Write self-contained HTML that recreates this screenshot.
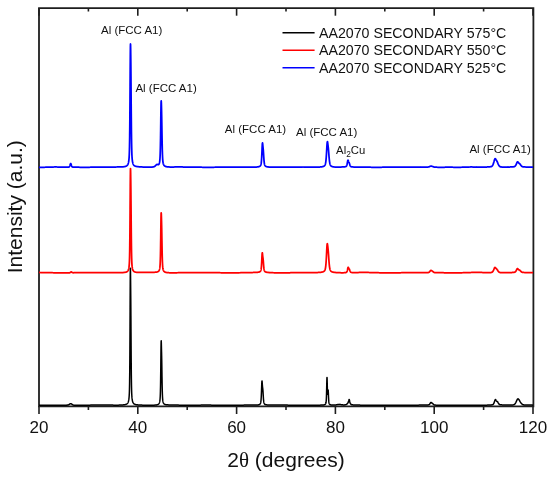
<!DOCTYPE html>
<html><head><meta charset="utf-8"><title>XRD</title>
<style>
html,body{margin:0;padding:0;background:#fff;}
svg{display:block;}
text{font-family:"Liberation Sans",Arial,sans-serif;fill:#111;}
</style></head><body>
<svg width="550" height="479" viewBox="0 0 550 479">
<rect width="550" height="479" fill="#fff"/>
<g stroke="#1e1e1e" stroke-width="1.6"><line x1="39.00" y1="406" x2="39.00" y2="414" /><line x1="39.00" y1="8" x2="39.00" y2="15.7" /><line x1="88.40" y1="406" x2="88.40" y2="410" /><line x1="88.40" y1="8" x2="88.40" y2="11.5" /><line x1="137.80" y1="406" x2="137.80" y2="414" /><line x1="137.80" y1="8" x2="137.80" y2="15.7" /><line x1="187.20" y1="406" x2="187.20" y2="410" /><line x1="187.20" y1="8" x2="187.20" y2="11.5" /><line x1="236.60" y1="406" x2="236.60" y2="414" /><line x1="236.60" y1="8" x2="236.60" y2="15.7" /><line x1="286.00" y1="406" x2="286.00" y2="410" /><line x1="286.00" y1="8" x2="286.00" y2="11.5" /><line x1="335.40" y1="406" x2="335.40" y2="414" /><line x1="335.40" y1="8" x2="335.40" y2="15.7" /><line x1="384.80" y1="406" x2="384.80" y2="410" /><line x1="384.80" y1="8" x2="384.80" y2="11.5" /><line x1="434.20" y1="406" x2="434.20" y2="414" /><line x1="434.20" y1="8" x2="434.20" y2="15.7" /><line x1="483.60" y1="406" x2="483.60" y2="410" /><line x1="483.60" y1="8" x2="483.60" y2="11.5" /><line x1="533.00" y1="406" x2="533.00" y2="414" /><line x1="533.00" y1="8" x2="533.00" y2="15.7" /></g>
<path d="M39,8.15 H533.4 V406.3 H39 Z" fill="none" stroke="#1e1e1e" stroke-width="1.8"/>
<path d="M39.00,167.26 39.50,167.26 40.00,167.27 40.50,167.27 41.00,167.27 41.50,167.28 42.00,167.28 42.50,167.28 43.00,167.27 43.50,167.27 44.00,167.26 44.50,167.26 45.00,167.25 45.50,167.24 46.00,167.23 46.50,167.21 47.00,167.20 47.50,167.18 48.00,167.17 48.50,167.15 49.00,167.13 49.50,167.12 50.00,167.10 50.50,167.08 51.00,167.07 51.50,167.05 52.00,167.04 52.50,167.03 53.00,167.01 53.50,167.01 54.00,167.00 54.50,166.99 55.00,166.99 55.50,166.99 56.00,166.99 56.50,166.99 57.00,167.00 57.50,167.01 58.00,167.02 58.50,167.03 58.95,167.04 59.00,167.04 59.20,167.05 59.45,167.05 59.50,167.05 59.70,167.06 59.95,167.07 60.00,167.07 60.20,167.07 60.45,167.08 60.50,167.08 60.70,167.09 60.95,167.09 61.00,167.10 61.20,167.10 61.45,167.11 61.50,167.11 61.70,167.12 61.95,167.12 62.00,167.13 62.20,167.13 62.45,167.14 62.50,167.14 62.70,167.14 62.95,167.15 63.00,167.15 63.20,167.16 63.45,167.16 63.50,167.16 63.70,167.17 63.95,167.17 64.00,167.17 64.20,167.18 64.45,167.18 64.50,167.18 64.70,167.18 64.95,167.19 65.00,167.19 65.20,167.19 65.45,167.19 65.50,167.19 65.70,167.19 65.95,167.19 66.00,167.19 66.20,167.19 66.45,167.19 66.50,167.19 66.70,167.19 66.95,167.19 67.00,167.19 67.20,167.18 67.45,167.18 67.50,167.17 67.70,167.17 67.74,167.17 67.82,167.16 67.90,167.16 67.95,167.16 67.98,167.15 68.00,167.15 68.06,167.15 68.14,167.15 68.20,167.14 68.22,167.14 68.30,167.13 68.38,167.13 68.45,167.12 68.46,167.12 68.50,167.11 68.54,167.11 68.62,167.10 68.70,167.08 68.78,167.06 68.86,167.04 68.94,167.01 68.95,167.01 69.00,166.99 69.02,166.98 69.10,166.94 69.18,166.88 69.20,166.87 69.26,166.82 69.34,166.73 69.42,166.64 69.45,166.59 69.50,166.52 69.58,166.38 69.66,166.22 69.70,166.13 69.74,166.03 69.82,165.83 69.90,165.60 69.95,165.45 69.98,165.36 70.00,165.29 70.06,165.10 70.14,164.84 70.20,164.64 70.22,164.57 70.30,164.32 70.38,164.09 70.45,163.92 70.46,163.90 70.50,163.81 70.54,163.74 70.62,163.65 70.70,163.62 70.78,163.65 70.86,163.74 70.94,163.89 70.95,163.91 71.00,164.04 71.02,164.09 71.10,164.32 71.18,164.57 71.20,164.63 71.26,164.83 71.34,165.09 71.42,165.34 71.45,165.44 71.50,165.59 71.58,165.81 71.66,166.02 71.70,166.11 71.74,166.20 71.82,166.36 71.90,166.50 71.95,166.57 71.98,166.62 72.00,166.64 72.06,166.71 72.14,166.79 72.20,166.84 72.22,166.86 72.30,166.91 72.38,166.95 72.45,166.98 72.46,166.99 72.50,167.00 72.54,167.01 72.62,167.04 72.70,167.05 72.78,167.07 72.86,167.08 72.94,167.09 72.95,167.09 73.00,167.09 73.02,167.09 73.10,167.10 73.18,167.11 73.20,167.11 73.26,167.11 73.34,167.12 73.42,167.12 73.45,167.12 73.50,167.12 73.58,167.13 73.66,167.13 73.70,167.13 73.95,167.14 74.00,167.14 74.20,167.15 74.45,167.15 74.50,167.15 74.70,167.16 74.95,167.16 75.00,167.16 75.20,167.17 75.45,167.17 75.50,167.17 75.70,167.18 75.95,167.18 76.00,167.18 76.20,167.18 76.45,167.19 76.50,167.19 76.70,167.19 76.95,167.20 77.00,167.20 77.20,167.20 77.45,167.20 77.50,167.21 77.70,167.21 77.95,167.21 78.00,167.22 78.20,167.22 78.45,167.22 78.50,167.23 78.70,167.23 78.95,167.23 79.00,167.24 79.20,167.24 79.45,167.25 79.50,167.25 79.70,167.25 79.95,167.26 80.00,167.26 80.20,167.26 80.45,167.27 80.50,167.27 80.70,167.27 80.95,167.28 81.00,167.28 81.20,167.28 81.45,167.29 81.50,167.29 81.70,167.29 81.95,167.30 82.00,167.30 82.20,167.30 82.45,167.31 82.50,167.31 83.00,167.32 83.50,167.32 84.00,167.33 84.50,167.33 85.00,167.33 85.50,167.33 86.00,167.33 86.50,167.33 87.00,167.32 87.50,167.31 88.00,167.30 88.50,167.29 89.00,167.28 89.50,167.27 90.00,167.25 90.50,167.24 91.00,167.22 91.50,167.20 92.00,167.19 92.50,167.17 93.00,167.16 93.50,167.14 94.00,167.13 94.50,167.12 95.00,167.11 95.50,167.10 96.00,167.09 96.50,167.09 97.00,167.09 97.50,167.08 98.00,167.08 98.50,167.09 99.00,167.09 99.50,167.10 100.00,167.10 100.50,167.11 101.00,167.12 101.50,167.13 102.00,167.14 102.50,167.14 103.00,167.15 103.50,167.16 104.00,167.17 104.50,167.18 105.00,167.18 105.50,167.19 106.00,167.19 106.50,167.19 107.00,167.19 107.50,167.19 108.00,167.19 108.50,167.18 109.00,167.17 109.50,167.17 110.00,167.16 110.50,167.15 111.00,167.14 111.50,167.12 112.00,167.11 112.50,167.10 113.00,167.08 113.50,167.07 114.00,167.06 114.50,167.04 115.00,167.03 115.50,167.02 116.00,167.01 116.50,167.00 117.00,166.99 117.50,166.98 118.00,166.97 118.50,166.96 119.00,166.96 119.50,166.95 120.00,166.94 120.50,166.93 121.00,166.91 121.50,166.90 122.00,166.87 122.50,166.85 122.66,166.84 122.91,166.82 123.00,166.81 123.16,166.80 123.41,166.78 123.50,166.77 123.66,166.75 123.91,166.72 124.00,166.71 124.16,166.69 124.41,166.65 124.50,166.63 124.66,166.61 124.91,166.55 125.00,166.53 125.16,166.50 125.41,166.43 125.50,166.40 125.66,166.35 125.91,166.25 126.00,166.22 126.16,166.14 126.41,166.01 126.50,165.96 126.66,165.85 126.91,165.66 127.00,165.58 127.16,165.42 127.41,165.13 127.50,165.00 127.66,164.76 127.91,164.28 128.00,164.07 128.16,163.64 128.41,162.79 128.49,162.45 128.50,162.40 128.57,162.07 128.65,161.64 128.66,161.58 128.73,161.15 128.81,160.60 128.89,159.96 128.91,159.78 128.97,159.20 129.00,158.88 129.05,158.30 129.13,157.20 129.16,156.72 129.21,155.83 129.29,154.10 129.37,151.90 129.41,150.58 129.45,149.07 129.50,146.92 129.53,145.45 129.61,140.86 129.66,137.41 129.69,135.10 129.77,128.03 129.85,119.54 129.91,112.23 129.93,109.62 130.00,99.86 130.01,98.39 130.09,86.23 130.16,75.33 130.17,73.80 130.25,62.15 130.33,52.62 130.41,46.40 130.49,44.03 130.50,44.00 130.57,45.16 130.65,48.90 130.66,49.50 130.73,54.42 130.81,61.30 130.89,69.47 130.91,71.71 130.97,78.83 131.00,82.58 131.05,89.02 131.13,99.43 131.16,103.26 131.21,109.44 131.29,118.60 131.37,126.66 131.41,130.25 131.45,133.55 131.50,137.27 131.53,139.30 131.61,144.01 131.66,146.49 131.69,147.82 131.77,150.87 131.85,153.28 131.91,154.76 131.93,155.19 132.00,156.54 132.01,156.71 132.09,157.93 132.16,158.80 132.17,158.92 132.25,159.73 132.33,160.41 132.41,160.99 132.50,161.55 132.66,162.37 132.91,163.32 133.00,163.59 133.16,164.01 133.30,164.32 133.41,164.53 133.50,164.68 133.55,164.76 133.66,164.92 133.80,165.11 133.91,165.23 134.00,165.33 134.05,165.38 134.16,165.48 134.30,165.60 134.41,165.68 134.50,165.74 134.55,165.78 134.66,165.85 134.80,165.93 134.91,165.98 135.00,166.03 135.05,166.05 135.16,166.10 135.30,166.15 135.41,166.19 135.50,166.22 135.55,166.24 135.66,166.28 135.80,166.32 135.91,166.35 136.00,166.37 136.05,166.38 136.16,166.41 136.30,166.44 136.41,166.46 136.50,166.48 136.55,166.49 136.66,166.51 136.80,166.54 136.91,166.55 137.00,166.57 137.05,166.58 137.16,166.59 137.30,166.61 137.41,166.63 137.50,166.64 137.55,166.64 137.66,166.66 137.80,166.67 137.91,166.69 138.00,166.70 138.05,166.70 138.16,166.71 138.30,166.73 138.50,166.74 138.55,166.75 138.80,166.77 139.00,166.79 139.05,166.79 139.30,166.81 139.50,166.82 139.55,166.83 139.80,166.85 140.00,166.86 140.05,166.86 140.30,166.88 140.50,166.89 140.55,166.89 140.80,166.91 141.00,166.92 141.05,166.92 141.30,166.94 141.50,166.95 141.55,166.95 141.80,166.96 142.00,166.97 142.05,166.98 142.30,166.99 142.50,167.00 142.55,167.00 142.80,167.01 143.00,167.02 143.05,167.03 143.30,167.04 143.50,167.05 143.55,167.05 143.80,167.06 144.00,167.07 144.05,167.07 144.30,167.08 144.50,167.09 144.55,167.09 144.80,167.10 145.00,167.11 145.05,167.11 145.30,167.11 145.50,167.12 145.55,167.12 145.80,167.13 146.00,167.13 146.05,167.14 146.30,167.14 146.50,167.15 146.55,167.15 146.80,167.15 147.00,167.15 147.05,167.16 147.30,167.16 147.50,167.16 147.55,167.16 147.80,167.16 148.00,167.16 148.05,167.16 148.30,167.16 148.50,167.16 148.55,167.16 148.80,167.16 149.00,167.16 149.05,167.16 149.30,167.16 149.50,167.15 149.55,167.15 149.80,167.15 150.00,167.14 150.05,167.14 150.30,167.13 150.50,167.13 150.55,167.13 150.80,167.12 150.88,167.11 150.96,167.11 151.00,167.11 151.04,167.11 151.05,167.11 151.12,167.10 151.20,167.10 151.28,167.10 151.30,167.10 151.36,167.09 151.44,167.09 151.50,167.09 151.52,167.08 151.55,167.08 151.60,167.08 151.68,167.08 151.76,167.07 151.80,167.07 151.84,167.07 151.92,167.06 152.00,167.06 152.05,167.05 152.08,167.05 152.16,167.04 152.24,167.04 152.30,167.03 152.32,167.03 152.40,167.02 152.48,167.02 152.50,167.02 152.55,167.01 152.56,167.01 152.60,167.01 152.64,167.00 152.72,166.99 152.80,166.99 152.85,166.98 152.88,166.98 152.96,166.97 153.00,166.96 153.04,166.96 153.05,166.95 153.10,166.95 153.12,166.94 153.20,166.93 153.28,166.92 153.30,166.91 153.35,166.90 153.36,166.90 153.44,166.89 153.50,166.87 153.52,166.87 153.55,166.86 153.60,166.85 153.68,166.83 153.76,166.81 153.80,166.80 153.84,166.78 153.85,166.78 153.92,166.76 154.00,166.73 154.05,166.71 154.08,166.70 154.10,166.69 154.16,166.67 154.24,166.63 154.30,166.60 154.32,166.59 154.35,166.57 154.40,166.55 154.48,166.50 154.50,166.49 154.55,166.46 154.56,166.45 154.60,166.43 154.64,166.40 154.72,166.35 154.80,166.29 154.85,166.25 154.88,166.23 154.96,166.16 155.00,166.13 155.04,166.09 155.05,166.08 155.10,166.04 155.12,166.02 155.20,165.94 155.28,165.87 155.30,165.85 155.35,165.80 155.36,165.79 155.44,165.70 155.50,165.64 155.52,165.62 155.55,165.59 155.60,165.53 155.68,165.45 155.76,165.36 155.80,165.32 155.84,165.27 155.85,165.26 155.92,165.19 156.00,165.10 156.05,165.05 156.08,165.02 156.10,165.00 156.16,164.94 156.24,164.87 156.30,164.81 156.32,164.80 156.35,164.77 156.40,164.73 156.48,164.67 156.50,164.66 156.55,164.62 156.56,164.62 156.60,164.60 156.64,164.57 156.72,164.54 156.80,164.51 156.85,164.49 156.88,164.49 156.96,164.47 157.00,164.47 157.04,164.46 157.05,164.46 157.10,164.46 157.12,164.47 157.20,164.47 157.28,164.48 157.30,164.49 157.35,164.50 157.36,164.50 157.44,164.52 157.50,164.53 157.52,164.54 157.55,164.55 157.60,164.56 157.68,164.58 157.76,164.60 157.80,164.61 157.84,164.62 157.85,164.63 157.92,164.64 158.00,164.65 158.05,164.66 158.08,164.66 158.10,164.66 158.16,164.66 158.24,164.66 158.30,164.65 158.32,164.65 158.35,164.64 158.40,164.63 158.48,164.60 158.50,164.59 158.55,164.56 158.56,164.56 158.60,164.53 158.64,164.50 158.72,164.44 158.80,164.36 158.85,164.30 158.88,164.26 158.94,164.17 158.96,164.14 159.00,164.08 159.02,164.04 159.04,164.01 159.05,163.99 159.10,163.89 159.12,163.85 159.18,163.72 159.20,163.67 159.26,163.51 159.28,163.45 159.30,163.39 159.34,163.27 159.35,163.24 159.36,163.20 159.42,162.99 159.44,162.91 159.50,162.65 159.52,162.56 159.55,162.41 159.58,162.26 159.60,162.15 159.66,161.78 159.68,161.64 159.74,161.19 159.76,161.02 159.80,160.66 159.82,160.46 159.84,160.25 159.85,160.15 159.90,159.55 159.92,159.29 159.98,158.41 160.00,158.08 160.05,157.17 160.06,156.97 160.08,156.56 160.10,156.12 160.14,155.17 160.16,154.65 160.22,152.92 160.24,152.28 160.30,150.16 160.32,149.39 160.35,148.15 160.38,146.83 160.40,145.90 160.46,142.87 160.48,141.78 160.50,140.65 160.54,138.27 160.55,137.65 160.56,137.02 160.60,134.41 160.62,133.05 160.64,131.67 160.70,127.33 160.72,125.84 160.78,121.30 160.80,119.78 160.85,116.02 160.86,115.28 160.88,113.83 160.94,109.75 160.96,108.50 161.00,106.24 161.02,105.25 161.04,104.34 161.05,103.93 161.10,102.25 161.12,101.77 161.18,100.98 161.20,100.92 161.26,101.30 161.28,101.58 161.30,101.94 161.34,102.83 161.35,103.09 161.36,103.36 161.42,105.18 161.44,105.86 161.50,108.06 161.52,108.86 161.55,110.10 161.58,111.40 161.60,112.31 161.66,115.22 161.68,116.25 161.74,119.53 161.76,120.68 161.80,123.05 161.82,124.25 161.84,125.47 161.85,126.09 161.90,129.17 161.92,130.40 161.98,134.03 162.00,135.21 162.05,138.07 162.06,138.62 162.08,139.71 162.10,140.77 162.14,142.80 162.16,143.77 162.22,146.50 162.24,147.35 162.30,149.70 162.32,150.42 162.35,151.45 162.38,152.41 162.40,153.02 162.46,154.68 162.48,155.19 162.50,155.67 162.54,156.56 162.55,156.77 162.56,156.97 162.60,157.74 162.62,158.09 162.64,158.43 162.70,159.34 162.72,159.62 162.78,160.36 162.80,160.58 162.85,161.08 162.86,161.18 162.94,161.84 163.00,162.27 163.02,162.39 163.05,162.58 163.10,162.85 163.18,163.24 163.26,163.57 163.30,163.71 163.35,163.88 163.50,164.32 163.55,164.45 163.60,164.57 163.80,164.97 163.85,165.05 164.00,165.28 164.05,165.35 164.10,165.42 164.30,165.65 164.35,165.70 164.50,165.84 164.55,165.88 164.60,165.92 164.80,166.06 164.85,166.10 165.00,166.18 165.05,166.21 165.10,166.24 165.30,166.34 165.35,166.36 165.50,166.42 165.55,166.44 165.60,166.46 165.80,166.52 165.85,166.54 166.00,166.58 166.05,166.60 166.10,166.61 166.30,166.66 166.35,166.67 166.50,166.70 166.55,166.71 166.60,166.72 166.80,166.76 166.85,166.77 167.00,166.79 167.05,166.80 167.10,166.80 167.30,166.83 167.35,166.84 167.50,166.86 167.55,166.86 167.60,166.87 167.80,166.89 167.85,166.89 168.00,166.91 168.05,166.91 168.10,166.92 168.30,166.93 168.35,166.93 168.50,166.95 168.55,166.95 168.60,166.95 168.80,166.96 168.85,166.97 169.00,166.97 169.05,166.98 169.10,166.98 169.30,166.99 169.35,166.99 169.50,167.00 169.55,167.00 169.60,167.00 169.80,167.01 170.00,167.01 170.05,167.01 170.30,167.02 170.50,167.02 170.55,167.02 170.80,167.02 171.00,167.03 171.05,167.03 171.30,167.03 171.50,167.03 171.55,167.03 171.80,167.03 172.00,167.03 172.05,167.03 172.30,167.03 172.50,167.02 172.55,167.02 172.80,167.02 173.00,167.02 173.05,167.02 173.30,167.01 173.50,167.01 173.55,167.01 173.80,167.01 174.00,167.00 174.05,167.00 174.30,167.00 174.50,166.99 174.55,166.99 174.80,166.99 175.00,166.99 175.05,166.98 175.30,166.98 175.50,166.98 175.55,166.98 175.80,166.97 176.00,166.97 176.05,166.97 176.30,166.96 176.50,166.96 176.55,166.96 176.80,166.96 177.00,166.95 177.05,166.95 177.30,166.95 177.50,166.95 177.55,166.95 177.80,166.95 178.00,166.94 178.05,166.94 178.30,166.94 178.50,166.94 178.55,166.94 178.80,166.94 179.00,166.94 179.05,166.94 179.30,166.94 179.50,166.94 179.55,166.94 179.80,166.95 180.00,166.95 180.05,166.95 180.30,166.95 180.50,166.95 181.00,166.96 181.50,166.97 182.00,166.98 182.50,166.99 183.00,167.01 183.50,167.02 184.00,167.04 184.50,167.06 185.00,167.07 185.50,167.09 186.00,167.11 186.50,167.13 187.00,167.14 187.50,167.16 188.00,167.17 188.50,167.19 189.00,167.20 189.50,167.21 190.00,167.22 190.50,167.23 191.00,167.23 191.50,167.24 192.00,167.24 192.50,167.24 193.00,167.24 193.50,167.24 194.00,167.24 194.50,167.24 195.00,167.24 195.50,167.23 196.00,167.23 196.50,167.23 197.00,167.23 197.50,167.22 198.00,167.22 198.50,167.22 199.00,167.22 199.50,167.22 200.00,167.23 200.50,167.23 201.00,167.23 201.50,167.24 202.00,167.25 202.50,167.26 203.00,167.26 203.50,167.27 204.00,167.28 204.50,167.29 205.00,167.30 205.50,167.31 206.00,167.32 206.50,167.33 207.00,167.34 207.50,167.34 208.00,167.35 208.50,167.35 209.00,167.35 209.50,167.35 210.00,167.35 210.50,167.34 211.00,167.34 211.50,167.33 212.00,167.32 212.50,167.31 213.00,167.29 213.50,167.28 214.00,167.26 214.50,167.25 215.00,167.23 215.50,167.21 216.00,167.19 216.50,167.17 217.00,167.16 217.50,167.14 218.00,167.12 218.50,167.11 219.00,167.09 219.50,167.08 220.00,167.07 220.50,167.06 221.00,167.06 221.50,167.05 222.00,167.05 222.50,167.05 223.00,167.05 223.50,167.05 224.00,167.06 224.50,167.06 225.00,167.07 225.50,167.08 226.00,167.09 226.50,167.10 227.00,167.11 227.50,167.12 228.00,167.13 228.50,167.14 229.00,167.14 229.50,167.15 230.00,167.16 230.50,167.16 231.00,167.17 231.50,167.17 232.00,167.17 232.50,167.17 233.00,167.17 233.50,167.17 234.00,167.16 234.50,167.16 235.00,167.15 235.50,167.15 236.00,167.14 236.50,167.13 237.00,167.13 237.50,167.12 238.00,167.11 238.50,167.11 239.00,167.10 239.50,167.10 240.00,167.10 240.50,167.10 241.00,167.10 241.50,167.10 242.00,167.10 242.50,167.11 243.00,167.11 243.50,167.12 244.00,167.13 244.50,167.14 245.00,167.15 245.50,167.16 246.00,167.17 246.50,167.18 247.00,167.19 247.50,167.20 248.00,167.21 248.50,167.22 249.00,167.23 249.50,167.24 250.00,167.24 250.50,167.24 251.00,167.24 251.50,167.24 252.00,167.23 252.17,167.23 252.42,167.23 252.50,167.23 252.67,167.22 252.92,167.22 253.00,167.22 253.17,167.21 253.42,167.21 253.50,167.20 253.67,167.20 253.92,167.19 254.00,167.19 254.17,167.18 254.42,167.17 254.50,167.17 254.67,167.16 254.92,167.15 255.00,167.14 255.17,167.13 255.42,167.12 255.50,167.11 255.67,167.10 255.92,167.09 256.00,167.08 256.17,167.07 256.42,167.05 256.50,167.04 256.67,167.02 256.92,167.00 257.00,166.99 257.17,166.97 257.42,166.94 257.50,166.93 257.67,166.91 257.92,166.87 258.00,166.85 258.17,166.82 258.42,166.77 258.50,166.76 258.67,166.71 258.92,166.64 259.00,166.62 259.17,166.56 259.42,166.46 259.50,166.42 259.67,166.33 259.86,166.21 259.92,166.17 259.94,166.16 260.00,166.11 260.02,166.09 260.10,166.03 260.17,165.96 260.18,165.95 260.26,165.87 260.34,165.78 260.42,165.68 260.50,165.57 260.58,165.44 260.66,165.29 260.67,165.27 260.74,165.11 260.82,164.91 260.90,164.66 260.92,164.59 260.98,164.37 261.00,164.28 261.06,164.01 261.14,163.58 261.17,163.40 261.22,163.06 261.30,162.43 261.38,161.68 261.42,161.25 261.46,160.79 261.50,160.29 261.54,159.74 261.62,158.53 261.67,157.69 261.70,157.15 261.78,155.61 261.86,153.92 261.92,152.57 261.94,152.11 262.00,150.70 262.02,150.23 262.10,148.35 262.17,146.80 262.18,146.59 262.26,145.06 262.34,143.88 262.42,143.17 262.50,142.94 262.58,143.14 262.66,143.69 262.67,143.77 262.74,144.44 262.82,145.28 262.90,146.13 262.92,146.34 262.98,146.95 263.00,147.15 263.06,147.72 263.14,148.48 263.17,148.78 263.22,149.29 263.30,150.18 263.38,151.20 263.42,151.75 263.46,152.34 263.50,152.95 263.54,153.58 263.62,154.87 263.67,155.68 263.70,156.15 263.78,157.39 263.86,158.55 263.92,159.36 263.94,159.61 264.00,160.34 264.02,160.57 264.10,161.41 264.17,162.07 264.18,162.15 264.26,162.80 264.34,163.35 264.42,163.81 264.50,164.21 264.58,164.54 264.66,164.82 264.67,164.85 264.74,165.05 264.82,165.25 264.90,165.41 264.92,165.45 264.98,165.55 265.00,165.59 265.17,165.82 265.42,166.07 265.50,166.14 265.67,166.26 265.92,166.40 266.00,166.44 266.17,166.52 266.42,166.61 266.50,166.63 266.67,166.68 266.92,166.75 267.00,166.77 267.17,166.80 267.42,166.85 267.50,166.86 267.67,166.89 267.92,166.92 268.00,166.94 268.17,166.96 268.42,166.98 268.50,166.99 268.67,167.01 268.92,167.03 269.00,167.04 269.17,167.05 269.42,167.07 269.50,167.08 269.67,167.09 269.92,167.11 270.00,167.11 270.17,167.12 270.42,167.13 270.50,167.14 270.67,167.15 270.92,167.16 271.00,167.16 271.17,167.17 271.42,167.18 271.50,167.18 271.67,167.18 271.92,167.19 272.00,167.19 272.17,167.20 272.42,167.20 272.50,167.21 272.67,167.21 273.00,167.22 273.50,167.22 274.00,167.23 274.50,167.23 275.00,167.23 275.50,167.22 276.00,167.22 276.50,167.22 277.00,167.21 277.50,167.20 278.00,167.19 278.50,167.18 279.00,167.18 279.50,167.17 280.00,167.16 280.50,167.15 281.00,167.14 281.50,167.14 282.00,167.13 282.50,167.13 283.00,167.13 283.50,167.13 284.00,167.13 284.50,167.13 285.00,167.13 285.50,167.14 286.00,167.14 286.50,167.15 287.00,167.16 287.50,167.16 288.00,167.17 288.50,167.18 289.00,167.18 289.50,167.19 290.00,167.20 290.50,167.20 291.00,167.21 291.50,167.21 292.00,167.21 292.50,167.21 293.00,167.21 293.50,167.21 294.00,167.20 294.50,167.19 295.00,167.19 295.50,167.18 296.00,167.16 296.50,167.15 297.00,167.14 297.50,167.13 298.00,167.11 298.50,167.10 299.00,167.08 299.50,167.07 300.00,167.06 300.50,167.04 301.00,167.03 301.50,167.02 302.00,167.01 302.50,167.01 303.00,167.00 303.50,167.00 304.00,167.00 304.50,167.00 305.00,167.00 305.50,167.01 306.00,167.01 306.50,167.02 307.00,167.03 307.50,167.04 308.00,167.06 308.50,167.07 309.00,167.08 309.50,167.10 310.00,167.11 310.50,167.12 311.00,167.13 311.50,167.15 312.00,167.16 312.50,167.17 313.00,167.17 313.27,167.18 313.50,167.18 313.52,167.18 313.77,167.18 314.00,167.18 314.02,167.18 314.27,167.18 314.50,167.18 314.52,167.18 314.77,167.18 315.00,167.18 315.02,167.18 315.27,167.18 315.50,167.18 315.52,167.18 315.77,167.17 316.00,167.17 316.02,167.17 316.27,167.17 316.50,167.16 316.52,167.16 316.77,167.16 317.00,167.15 317.02,167.15 317.27,167.14 317.50,167.14 317.52,167.13 317.77,167.13 318.00,167.12 318.02,167.12 318.27,167.11 318.50,167.10 318.52,167.09 318.77,167.08 319.00,167.07 319.02,167.07 319.27,167.05 319.50,167.04 319.52,167.04 319.77,167.02 320.00,167.00 320.02,167.00 320.27,166.98 320.50,166.96 320.52,166.96 320.77,166.93 321.00,166.91 321.02,166.91 321.27,166.88 321.50,166.85 321.52,166.84 321.77,166.81 322.00,166.77 322.02,166.76 322.27,166.72 322.50,166.67 322.52,166.66 322.77,166.60 323.00,166.54 323.02,166.53 323.27,166.45 323.50,166.36 323.52,166.35 323.75,166.24 323.77,166.23 323.83,166.20 323.91,166.15 323.99,166.11 324.00,166.10 324.02,166.09 324.07,166.05 324.15,166.00 324.23,165.94 324.27,165.91 324.31,165.88 324.39,165.81 324.47,165.74 324.50,165.71 324.52,165.69 324.55,165.66 324.63,165.57 324.71,165.47 324.77,165.39 324.79,165.36 324.87,165.24 324.95,165.11 325.00,165.02 325.02,164.98 325.03,164.96 325.11,164.79 325.19,164.59 325.27,164.37 325.35,164.12 325.43,163.82 325.50,163.53 325.51,163.48 325.52,163.44 325.59,163.10 325.67,162.65 325.75,162.15 325.77,162.01 325.83,161.57 325.91,160.92 325.99,160.18 326.00,160.09 326.02,159.89 326.07,159.36 326.15,158.45 326.23,157.45 326.27,156.91 326.31,156.35 326.39,155.16 326.47,153.89 326.50,153.40 326.52,153.06 326.55,152.55 326.63,151.15 326.71,149.72 326.77,148.64 326.79,148.28 326.87,146.88 326.95,145.55 327.00,144.78 327.02,144.49 327.03,144.35 327.11,143.33 327.19,142.54 327.27,142.00 327.35,141.72 327.43,141.69 327.50,141.84 327.51,141.88 327.52,141.91 327.59,142.24 327.67,142.73 327.75,143.30 327.77,143.46 327.83,143.92 327.91,144.56 327.99,145.21 328.00,145.29 328.02,145.45 328.07,145.85 328.15,146.51 328.23,147.20 328.27,147.55 328.31,147.92 328.39,148.71 328.47,149.56 328.50,149.90 328.52,150.13 328.55,150.48 328.63,151.46 328.71,152.47 328.77,153.25 328.79,153.51 328.87,154.56 328.95,155.58 329.00,156.20 329.02,156.44 329.03,156.56 329.11,157.50 329.19,158.39 329.27,159.21 329.35,159.97 329.43,160.67 329.50,161.23 329.51,161.31 329.52,161.38 329.59,161.88 329.67,162.40 329.75,162.87 329.77,162.97 329.83,163.28 329.91,163.65 329.99,163.97 330.00,164.01 330.02,164.08 330.07,164.26 330.15,164.51 330.23,164.73 330.27,164.83 330.31,164.93 330.39,165.10 330.47,165.25 330.50,165.31 330.52,165.34 330.55,165.39 330.63,165.51 330.71,165.62 330.77,165.69 330.79,165.72 331.00,165.93 331.02,165.95 331.27,166.14 331.50,166.28 331.52,166.30 331.77,166.42 332.00,166.52 332.02,166.52 332.27,166.61 332.50,166.68 332.52,166.69 332.77,166.75 333.00,166.80 333.02,166.80 333.27,166.85 333.50,166.89 333.52,166.89 333.77,166.92 334.00,166.95 334.02,166.95 334.27,166.98 334.50,167.00 334.52,167.00 334.77,167.02 335.00,167.04 335.02,167.04 335.27,167.05 335.50,167.06 335.52,167.06 335.77,167.07 336.00,167.08 336.02,167.08 336.18,167.09 336.27,167.09 336.43,167.09 336.50,167.09 336.52,167.09 336.68,167.09 336.77,167.10 336.93,167.10 337.00,167.10 337.02,167.10 337.18,167.10 337.27,167.10 337.43,167.10 337.50,167.10 337.52,167.10 337.68,167.10 337.77,167.10 337.93,167.10 338.00,167.09 338.02,167.09 338.18,167.09 338.27,167.09 338.43,167.09 338.50,167.09 338.52,167.09 338.68,167.08 338.77,167.08 338.93,167.08 339.00,167.08 339.02,167.08 339.18,167.07 339.27,167.07 339.43,167.07 339.50,167.07 339.52,167.06 339.68,167.06 339.77,167.06 339.93,167.05 340.00,167.05 340.02,167.05 340.18,167.05 340.27,167.04 340.43,167.04 340.50,167.03 340.52,167.03 340.68,167.03 340.77,167.02 340.93,167.02 341.00,167.02 341.02,167.02 341.18,167.01 341.27,167.01 341.43,167.00 341.50,167.00 341.68,166.99 341.93,166.98 342.00,166.98 342.18,166.97 342.43,166.96 342.50,166.95 342.68,166.94 342.93,166.93 343.00,166.93 343.18,166.92 343.43,166.90 343.50,166.90 343.68,166.89 343.93,166.87 344.00,166.86 344.18,166.85 344.43,166.82 344.50,166.82 344.68,166.80 344.93,166.76 344.97,166.76 345.00,166.75 345.05,166.75 345.13,166.73 345.18,166.72 345.21,166.72 345.29,166.70 345.37,166.69 345.43,166.68 345.45,166.67 345.50,166.66 345.53,166.65 345.61,166.63 345.68,166.61 345.69,166.61 345.77,166.58 345.85,166.55 345.93,166.51 346.00,166.48 346.01,166.47 346.09,166.43 346.17,166.37 346.18,166.36 346.25,166.30 346.33,166.22 346.41,166.12 346.43,166.09 346.49,166.01 346.50,165.99 346.57,165.87 346.65,165.70 346.68,165.63 346.73,165.51 346.81,165.28 346.89,165.02 346.93,164.87 346.97,164.72 347.00,164.60 347.05,164.38 347.13,164.01 347.18,163.76 347.21,163.61 347.29,163.17 347.37,162.72 347.43,162.37 347.45,162.25 347.50,161.96 347.53,161.79 347.61,161.35 347.68,161.00 347.69,160.95 347.77,160.62 347.85,160.38 347.93,160.23 348.00,160.19 348.01,160.19 348.09,160.25 348.17,160.39 348.18,160.41 348.25,160.59 348.33,160.82 348.41,161.06 348.43,161.12 348.49,161.30 348.50,161.33 348.57,161.52 348.65,161.72 348.68,161.79 348.73,161.89 348.81,162.04 348.89,162.18 348.93,162.24 348.97,162.31 349.00,162.36 349.05,162.44 349.13,162.60 349.18,162.71 349.21,162.78 349.29,162.99 349.37,163.24 349.43,163.43 349.45,163.50 349.50,163.68 349.53,163.78 349.61,164.07 349.68,164.31 349.69,164.35 349.77,164.62 349.85,164.88 349.93,165.12 350.00,165.32 350.01,165.34 350.09,165.54 350.17,165.72 350.18,165.75 350.25,165.88 350.33,166.02 350.41,166.15 350.43,166.17 350.49,166.25 350.50,166.26 350.57,166.34 350.65,166.42 350.68,166.44 350.73,166.48 350.81,166.54 350.89,166.58 350.93,166.60 351.00,166.64 351.18,166.71 351.43,166.77 351.50,166.79 351.68,166.82 351.93,166.86 352.00,166.87 352.18,166.90 352.43,166.93 352.50,166.93 352.68,166.95 352.93,166.97 353.00,166.98 353.18,166.99 353.43,167.00 353.50,167.01 353.68,167.02 353.93,167.03 354.00,167.03 354.18,167.04 354.43,167.05 354.50,167.06 354.68,167.06 354.93,167.07 355.00,167.07 355.18,167.08 355.43,167.09 355.50,167.09 355.68,167.09 355.93,167.10 356.00,167.10 356.18,167.10 356.43,167.11 356.50,167.11 356.68,167.11 356.93,167.12 357.00,167.12 357.18,167.12 357.43,167.12 357.50,167.12 357.68,167.12 357.93,167.12 358.00,167.12 358.18,167.13 358.43,167.13 358.50,167.13 358.68,167.13 358.93,167.13 359.00,167.13 359.18,167.13 359.43,167.13 359.50,167.13 359.68,167.13 360.00,167.13 360.50,167.12 361.00,167.12 361.50,167.12 362.00,167.12 362.50,167.12 363.00,167.11 363.50,167.11 364.00,167.12 364.50,167.12 365.00,167.12 365.50,167.13 366.00,167.13 366.50,167.14 367.00,167.15 367.50,167.16 368.00,167.17 368.50,167.18 369.00,167.20 369.50,167.21 370.00,167.22 370.50,167.24 371.00,167.25 371.50,167.27 372.00,167.28 372.50,167.30 373.00,167.31 373.50,167.32 374.00,167.33 374.50,167.34 375.00,167.34 375.50,167.35 376.00,167.35 376.50,167.35 377.00,167.35 377.50,167.35 378.00,167.34 378.50,167.34 379.00,167.33 379.50,167.32 380.00,167.30 380.50,167.29 381.00,167.28 381.50,167.26 382.00,167.25 382.50,167.23 383.00,167.22 383.50,167.21 384.00,167.19 384.50,167.18 385.00,167.17 385.50,167.16 386.00,167.15 386.50,167.15 387.00,167.14 387.50,167.14 388.00,167.14 388.50,167.14 389.00,167.14 389.50,167.14 390.00,167.15 390.50,167.15 391.00,167.16 391.50,167.17 392.00,167.17 392.50,167.18 393.00,167.19 393.50,167.20 394.00,167.21 394.50,167.21 395.00,167.22 395.50,167.22 396.00,167.23 396.50,167.23 397.00,167.23 397.50,167.23 398.00,167.23 398.50,167.23 399.00,167.22 399.50,167.22 400.00,167.21 400.50,167.20 401.00,167.19 401.50,167.18 402.00,167.17 402.50,167.16 403.00,167.15 403.50,167.14 404.00,167.13 404.50,167.13 405.00,167.12 405.50,167.11 406.00,167.11 406.50,167.10 407.00,167.10 407.50,167.10 408.00,167.10 408.50,167.11 409.00,167.11 409.50,167.12 410.00,167.12 410.50,167.13 411.00,167.14 411.02,167.14 411.27,167.15 411.50,167.15 411.52,167.15 411.77,167.16 412.00,167.16 412.02,167.16 412.27,167.17 412.50,167.17 412.52,167.17 412.77,167.18 413.00,167.18 413.02,167.18 413.27,167.19 413.50,167.19 413.52,167.19 413.77,167.20 414.00,167.20 414.02,167.20 414.27,167.21 414.50,167.21 414.52,167.21 414.77,167.22 415.00,167.22 415.02,167.22 415.27,167.23 415.50,167.23 415.52,167.23 415.77,167.23 416.00,167.23 416.02,167.23 416.27,167.24 416.50,167.24 416.52,167.24 416.77,167.24 417.00,167.24 417.02,167.24 417.27,167.24 417.50,167.24 417.52,167.24 417.77,167.24 418.00,167.24 418.02,167.24 418.27,167.24 418.50,167.24 418.52,167.24 418.77,167.24 419.00,167.24 419.02,167.24 419.27,167.23 419.50,167.23 419.52,167.23 419.77,167.23 420.00,167.22 420.02,167.22 420.27,167.22 420.50,167.21 420.52,167.21 420.77,167.21 421.00,167.21 421.02,167.20 421.27,167.20 421.50,167.19 421.52,167.19 421.77,167.19 422.00,167.18 422.02,167.18 422.27,167.18 422.50,167.17 422.52,167.17 422.77,167.16 423.00,167.16 423.02,167.16 423.27,167.15 423.50,167.14 423.52,167.14 423.77,167.14 424.00,167.13 424.02,167.13 424.27,167.12 424.50,167.12 424.52,167.12 424.77,167.11 425.00,167.11 425.02,167.10 425.27,167.10 425.50,167.09 425.52,167.09 425.77,167.09 425.89,167.08 425.97,167.08 426.00,167.08 426.02,167.08 426.05,167.08 426.13,167.08 426.21,167.08 426.27,167.08 426.29,167.07 426.37,167.07 426.45,167.07 426.50,167.07 426.52,167.07 426.53,167.07 426.61,167.07 426.69,167.07 426.77,167.06 426.85,167.06 426.93,167.06 427.00,167.06 427.01,167.06 427.02,167.06 427.09,167.06 427.17,167.05 427.25,167.05 427.27,167.05 427.33,167.05 427.41,167.05 427.49,167.04 427.50,167.04 427.52,167.04 427.57,167.04 427.65,167.04 427.73,167.03 427.77,167.03 427.81,167.03 427.89,167.02 427.97,167.02 428.00,167.01 428.02,167.01 428.05,167.01 428.13,167.00 428.21,167.00 428.27,166.99 428.29,166.99 428.37,166.98 428.45,166.96 428.50,166.96 428.52,166.95 428.53,166.95 428.61,166.94 428.69,166.92 428.77,166.90 428.85,166.88 428.93,166.86 429.00,166.84 429.01,166.84 429.02,166.84 429.09,166.81 429.17,166.79 429.25,166.76 429.27,166.75 429.33,166.73 429.41,166.69 429.49,166.66 429.50,166.65 429.52,166.64 429.57,166.62 429.65,166.58 429.73,166.54 429.77,166.52 429.81,166.50 429.89,166.46 429.97,166.42 430.00,166.41 430.02,166.40 430.05,166.38 430.13,166.34 430.21,166.31 430.27,166.28 430.29,166.27 430.37,166.24 430.45,166.21 430.50,166.19 430.52,166.18 430.53,166.18 430.61,166.16 430.69,166.14 430.77,166.13 430.85,166.12 430.93,166.11 431.00,166.11 431.01,166.11 431.02,166.11 431.09,166.12 431.17,166.12 431.25,166.13 431.27,166.14 431.33,166.15 431.41,166.16 431.49,166.18 431.50,166.18 431.52,166.19 431.57,166.20 431.65,166.22 431.73,166.24 431.77,166.25 431.81,166.26 431.89,166.29 431.97,166.31 432.00,166.32 432.02,166.32 432.05,166.33 432.13,166.36 432.21,166.38 432.27,166.40 432.29,166.41 432.37,166.44 432.45,166.46 432.50,166.48 432.52,166.49 432.53,166.49 432.61,166.52 432.69,166.55 432.77,166.58 432.85,166.61 432.93,166.64 433.00,166.67 433.01,166.68 433.02,166.68 433.09,166.71 433.17,166.74 433.25,166.77 433.27,166.77 433.33,166.80 433.41,166.82 433.49,166.85 433.50,166.86 433.52,166.86 433.57,166.88 433.65,166.90 433.73,166.93 433.77,166.94 433.81,166.95 433.89,166.97 433.97,166.99 434.00,167.00 434.02,167.00 434.05,167.01 434.13,167.03 434.21,167.05 434.27,167.06 434.29,167.06 434.37,167.08 434.45,167.09 434.50,167.10 434.52,167.10 434.53,167.10 434.61,167.11 434.69,167.12 434.77,167.13 434.85,167.14 434.93,167.15 435.00,167.15 435.01,167.16 435.02,167.16 435.09,167.16 435.17,167.17 435.25,167.17 435.27,167.18 435.33,167.18 435.41,167.18 435.49,167.19 435.50,167.19 435.52,167.19 435.57,167.19 435.65,167.20 435.77,167.20 436.00,167.21 436.02,167.21 436.27,167.22 436.50,167.23 436.52,167.23 436.77,167.24 437.00,167.24 437.02,167.24 437.27,167.25 437.50,167.26 437.52,167.26 437.77,167.26 438.00,167.27 438.02,167.27 438.27,167.27 438.50,167.27 438.52,167.27 438.77,167.28 439.00,167.28 439.02,167.28 439.27,167.28 439.50,167.28 439.52,167.28 439.77,167.29 440.00,167.29 440.02,167.29 440.27,167.29 440.50,167.29 440.52,167.29 440.77,167.29 441.00,167.29 441.02,167.29 441.27,167.28 441.50,167.28 441.52,167.28 441.77,167.28 442.00,167.28 442.02,167.28 442.27,167.28 442.50,167.28 442.52,167.28 442.77,167.27 443.00,167.27 443.02,167.27 443.27,167.27 443.50,167.26 443.52,167.26 443.77,167.26 444.00,167.26 444.02,167.26 444.27,167.25 444.50,167.25 444.52,167.25 444.77,167.25 445.00,167.24 445.02,167.24 445.27,167.24 445.50,167.24 445.52,167.24 445.77,167.23 446.00,167.23 446.02,167.23 446.27,167.23 446.50,167.22 446.52,167.22 446.77,167.22 447.00,167.22 447.02,167.22 447.27,167.22 447.50,167.22 447.52,167.22 447.77,167.22 448.00,167.21 448.02,167.21 448.27,167.21 448.50,167.21 448.52,167.21 448.77,167.21 449.00,167.21 449.02,167.21 449.27,167.21 449.50,167.21 449.52,167.21 449.77,167.22 450.00,167.22 450.02,167.22 450.27,167.22 450.50,167.22 450.52,167.22 451.00,167.22 451.50,167.23 452.00,167.24 452.50,167.24 453.00,167.25 453.50,167.26 454.00,167.27 454.50,167.27 455.00,167.28 455.50,167.29 456.00,167.29 456.50,167.30 457.00,167.30 457.50,167.30 458.00,167.30 458.50,167.30 459.00,167.30 459.50,167.29 460.00,167.28 460.50,167.27 461.00,167.26 461.50,167.25 462.00,167.23 462.50,167.22 463.00,167.20 463.50,167.18 464.00,167.16 464.50,167.15 465.00,167.13 465.50,167.11 466.00,167.09 466.50,167.07 467.00,167.06 467.50,167.04 468.00,167.03 468.50,167.02 469.00,167.01 469.50,167.00 470.00,167.00 470.50,166.99 471.00,166.99 471.49,166.99 471.50,166.99 471.74,166.99 471.99,166.99 472.00,166.99 472.24,166.99 472.49,167.00 472.50,167.00 472.74,167.00 472.99,167.00 473.00,167.00 473.24,167.00 473.49,167.01 473.50,167.01 473.74,167.01 473.99,167.02 474.00,167.02 474.24,167.02 474.49,167.02 474.50,167.02 474.74,167.03 474.99,167.03 475.00,167.03 475.24,167.04 475.49,167.04 475.50,167.04 475.74,167.05 475.99,167.05 476.00,167.06 476.24,167.06 476.49,167.07 476.50,167.07 476.74,167.07 476.99,167.08 477.00,167.08 477.24,167.08 477.49,167.08 477.50,167.08 477.74,167.09 477.99,167.09 478.00,167.09 478.24,167.10 478.49,167.10 478.50,167.10 478.74,167.10 478.99,167.11 479.00,167.11 479.24,167.11 479.49,167.11 479.50,167.11 479.74,167.11 479.99,167.12 480.00,167.12 480.24,167.12 480.49,167.12 480.50,167.12 480.74,167.12 480.99,167.12 481.00,167.12 481.24,167.12 481.49,167.12 481.50,167.12 481.74,167.12 481.99,167.12 482.00,167.12 482.24,167.11 482.49,167.11 482.50,167.11 482.74,167.11 482.99,167.11 483.00,167.11 483.24,167.10 483.49,167.10 483.50,167.10 483.74,167.09 483.99,167.09 484.00,167.09 484.24,167.08 484.49,167.08 484.50,167.08 484.74,167.07 484.99,167.07 485.00,167.07 485.24,167.06 485.49,167.05 485.50,167.05 485.74,167.04 485.99,167.04 486.00,167.04 486.24,167.03 486.49,167.02 486.50,167.02 486.74,167.01 486.99,167.00 487.00,167.00 487.24,166.99 487.49,166.98 487.50,166.98 487.74,166.97 487.99,166.95 488.00,166.95 488.24,166.94 488.49,166.93 488.50,166.93 488.74,166.91 488.99,166.89 489.00,166.89 489.07,166.88 489.15,166.88 489.23,166.87 489.24,166.87 489.31,166.86 489.39,166.86 489.47,166.85 489.49,166.85 489.50,166.85 489.55,166.84 489.63,166.83 489.71,166.83 489.74,166.82 489.79,166.82 489.87,166.81 489.95,166.80 489.99,166.79 490.00,166.79 490.03,166.79 490.11,166.78 490.19,166.77 490.24,166.76 490.27,166.76 490.35,166.74 490.43,166.73 490.49,166.72 490.50,166.72 490.51,166.72 490.59,166.70 490.67,166.69 490.74,166.67 490.75,166.67 490.83,166.65 490.91,166.63 490.99,166.61 491.00,166.61 491.07,166.59 491.15,166.56 491.23,166.54 491.24,166.53 491.31,166.51 491.39,166.48 491.47,166.44 491.49,166.43 491.50,166.43 491.55,166.40 491.63,166.36 491.71,166.31 491.74,166.30 491.79,166.26 491.87,166.21 491.95,166.15 491.99,166.12 492.00,166.11 492.03,166.08 492.11,166.01 492.19,165.93 492.24,165.87 492.27,165.84 492.35,165.75 492.43,165.64 492.49,165.56 492.50,165.54 492.51,165.53 492.59,165.41 492.67,165.28 492.74,165.15 492.75,165.13 492.83,164.98 492.91,164.82 492.99,164.64 493.00,164.62 493.07,164.45 493.15,164.25 493.23,164.04 493.24,164.02 493.31,163.82 493.39,163.59 493.47,163.35 493.49,163.29 493.50,163.25 493.55,163.09 493.63,162.83 493.71,162.56 493.74,162.46 493.79,162.28 493.87,162.00 493.95,161.71 493.99,161.57 494.00,161.53 494.03,161.42 494.11,161.13 494.19,160.84 494.24,160.66 494.27,160.56 494.35,160.28 494.43,160.02 494.49,159.84 494.50,159.80 494.51,159.77 494.59,159.55 494.67,159.34 494.74,159.18 494.75,159.16 494.83,159.00 494.91,158.88 494.99,158.79 495.00,158.78 495.07,158.72 495.15,158.69 495.23,158.69 495.24,158.69 495.31,158.72 495.39,158.77 495.47,158.84 495.49,158.86 495.50,158.87 495.55,158.93 495.63,159.03 495.71,159.15 495.74,159.19 495.79,159.27 495.87,159.40 495.95,159.54 495.98,159.59 495.99,159.60 496.00,159.62 496.03,159.67 496.11,159.81 496.19,159.94 496.23,160.00 496.24,160.02 496.27,160.07 496.35,160.20 496.43,160.33 496.48,160.41 496.49,160.42 496.50,160.44 496.51,160.46 496.59,160.58 496.67,160.71 496.73,160.81 496.74,160.83 496.75,160.84 496.83,160.98 496.91,161.11 496.98,161.24 496.99,161.26 497.00,161.28 497.07,161.41 497.15,161.57 497.23,161.74 497.24,161.76 497.31,161.91 497.39,162.09 497.47,162.28 497.48,162.31 497.49,162.33 497.50,162.35 497.55,162.47 497.63,162.67 497.71,162.87 497.73,162.92 497.74,162.95 497.79,163.07 497.87,163.27 497.95,163.47 497.98,163.54 497.99,163.57 498.00,163.59 498.03,163.66 498.11,163.86 498.19,164.04 498.23,164.13 498.24,164.16 498.27,164.22 498.35,164.40 498.43,164.57 498.48,164.67 498.49,164.69 498.50,164.71 498.51,164.73 498.59,164.89 498.67,165.04 498.73,165.15 498.74,165.17 498.75,165.18 498.83,165.32 498.91,165.45 498.98,165.55 498.99,165.57 499.00,165.58 499.07,165.68 499.15,165.79 499.23,165.89 499.24,165.90 499.31,165.98 499.39,166.07 499.47,166.15 499.48,166.16 499.49,166.17 499.50,166.18 499.55,166.22 499.63,166.29 499.71,166.36 499.73,166.37 499.74,166.38 499.79,166.42 499.87,166.47 499.95,166.52 499.98,166.54 499.99,166.55 500.00,166.55 500.03,166.57 500.11,166.61 500.19,166.65 500.23,166.67 500.24,166.67 500.27,166.69 500.35,166.72 500.43,166.75 500.48,166.77 500.49,166.77 500.50,166.77 500.51,166.78 500.59,166.80 500.67,166.83 500.73,166.84 500.74,166.85 500.75,166.85 500.83,166.87 500.91,166.89 500.98,166.90 500.99,166.90 501.00,166.91 501.23,166.95 501.24,166.95 501.48,166.99 501.49,166.99 501.50,166.99 501.73,167.02 501.74,167.02 501.98,167.04 501.99,167.04 502.00,167.04 502.23,167.06 502.24,167.06 502.48,167.08 502.49,167.08 502.50,167.08 502.73,167.09 502.74,167.09 502.98,167.11 502.99,167.11 503.00,167.11 503.23,167.11 503.24,167.11 503.48,167.12 503.49,167.12 503.50,167.12 503.73,167.13 503.74,167.13 503.98,167.13 503.99,167.13 504.00,167.13 504.23,167.13 504.24,167.13 504.48,167.14 504.49,167.14 504.50,167.14 504.73,167.14 504.74,167.14 504.98,167.13 504.99,167.13 505.00,167.13 505.23,167.13 505.24,167.13 505.48,167.13 505.49,167.13 505.50,167.13 505.73,167.13 505.74,167.13 505.98,167.12 505.99,167.12 506.00,167.12 506.23,167.12 506.24,167.12 506.48,167.11 506.49,167.11 506.50,167.11 506.73,167.11 506.74,167.11 506.98,167.10 506.99,167.10 507.00,167.10 507.23,167.09 507.24,167.09 507.48,167.09 507.49,167.08 507.50,167.08 507.73,167.08 507.74,167.08 507.98,167.07 507.99,167.07 508.00,167.07 508.23,167.06 508.24,167.06 508.48,167.05 508.49,167.05 508.50,167.05 508.73,167.05 508.74,167.04 508.98,167.04 508.99,167.04 509.00,167.04 509.23,167.03 509.24,167.03 509.48,167.02 509.49,167.02 509.50,167.02 509.73,167.01 509.74,167.01 509.98,167.00 509.99,167.00 510.00,167.00 510.23,166.99 510.24,166.99 510.48,166.98 510.49,166.98 510.50,166.98 510.73,166.97 510.74,166.97 510.98,166.96 510.99,166.96 511.00,166.96 511.23,166.95 511.24,166.95 511.48,166.93 511.49,166.93 511.50,166.93 511.73,166.92 511.74,166.92 511.98,166.91 511.99,166.90 512.00,166.90 512.12,166.90 512.20,166.89 512.23,166.89 512.24,166.89 512.28,166.89 512.36,166.88 512.44,166.87 512.48,166.87 512.49,166.87 512.50,166.87 512.52,166.87 512.60,166.86 512.68,166.86 512.73,166.85 512.74,166.85 512.76,166.85 512.84,166.84 512.92,166.84 512.98,166.83 512.99,166.83 513.00,166.83 513.08,166.82 513.16,166.81 513.23,166.80 513.24,166.80 513.32,166.79 513.40,166.78 513.48,166.77 513.49,166.77 513.50,166.77 513.56,166.76 513.64,166.75 513.72,166.73 513.73,166.73 513.74,166.73 513.80,166.72 513.88,166.70 513.96,166.69 513.98,166.68 513.99,166.68 514.00,166.68 514.04,166.67 514.12,166.64 514.20,166.62 514.23,166.61 514.24,166.61 514.28,166.60 514.36,166.57 514.44,166.54 514.48,166.52 514.49,166.52 514.50,166.51 514.52,166.50 514.60,166.46 514.68,166.42 514.73,166.39 514.74,166.39 514.76,166.38 514.84,166.33 514.92,166.27 514.98,166.22 514.99,166.21 515.00,166.21 515.08,166.14 515.16,166.06 515.23,165.99 515.24,165.98 515.32,165.89 515.40,165.80 515.48,165.69 515.49,165.68 515.50,165.66 515.56,165.58 515.64,165.46 515.72,165.33 515.73,165.31 515.74,165.29 515.80,165.19 515.88,165.04 515.96,164.88 515.98,164.84 515.99,164.82 516.00,164.80 516.04,164.72 516.12,164.55 516.20,164.37 516.23,164.30 516.24,164.28 516.28,164.19 516.36,164.00 516.44,163.80 516.48,163.70 516.49,163.68 516.50,163.65 516.52,163.61 516.60,163.41 516.68,163.21 516.73,163.09 516.74,163.07 516.76,163.02 516.84,162.83 516.92,162.65 516.98,162.52 516.99,162.50 517.00,162.48 517.08,162.33 517.16,162.19 517.23,162.08 517.24,162.07 517.32,161.97 517.40,161.90 517.48,161.85 517.49,161.85 517.50,161.85 517.56,161.83 517.64,161.83 517.72,161.85 517.73,161.86 517.74,161.86 517.80,161.90 517.88,161.96 517.96,162.04 517.98,162.06 517.99,162.07 518.00,162.08 518.04,162.12 518.12,162.22 518.20,162.32 518.23,162.36 518.24,162.38 518.28,162.43 518.36,162.54 518.44,162.64 518.48,162.69 518.49,162.70 518.50,162.72 518.52,162.74 518.60,162.84 518.68,162.93 518.73,162.98 518.76,163.02 518.84,163.09 518.92,163.17 518.98,163.22 519.00,163.23 519.08,163.30 519.16,163.35 519.23,163.40 519.24,163.41 519.32,163.46 519.40,163.51 519.48,163.57 519.50,163.58 519.56,163.62 519.64,163.68 519.72,163.75 519.73,163.76 519.80,163.83 519.88,163.91 519.96,164.00 519.98,164.02 520.00,164.04 520.04,164.09 520.12,164.19 520.20,164.30 520.23,164.34 520.28,164.42 520.36,164.53 520.44,164.65 520.48,164.71 520.50,164.74 520.52,164.77 520.60,164.89 520.68,165.01 520.73,165.08 520.76,165.13 520.84,165.24 520.92,165.36 520.98,165.44 521.00,165.46 521.08,165.57 521.16,165.67 521.23,165.75 521.24,165.77 521.32,165.86 521.40,165.94 521.48,166.03 521.50,166.05 521.56,166.10 521.64,166.17 521.72,166.24 521.73,166.25 521.80,166.30 521.88,166.36 521.96,166.42 521.98,166.43 522.00,166.44 522.04,166.47 522.12,166.51 522.20,166.55 522.23,166.57 522.28,166.59 522.36,166.63 522.44,166.66 522.48,166.67 522.50,166.68 522.52,166.69 522.60,166.71 522.68,166.74 522.73,166.75 522.76,166.76 522.84,166.78 522.98,166.81 523.00,166.81 523.23,166.85 523.48,166.89 523.50,166.89 523.73,166.91 523.98,166.93 524.00,166.93 524.23,166.95 524.48,166.96 524.50,166.96 524.73,166.97 524.98,166.98 525.00,166.98 525.23,166.99 525.48,167.00 525.50,167.00 525.73,167.00 525.98,167.01 526.00,167.01 526.23,167.01 526.48,167.01 526.50,167.01 526.73,167.01 526.98,167.02 527.00,167.02 527.23,167.02 527.48,167.02 527.50,167.02 527.73,167.02 527.98,167.02 528.00,167.02 528.23,167.02 528.48,167.02 528.50,167.02 528.73,167.02 528.98,167.02 529.00,167.02 529.23,167.02 529.48,167.02 529.50,167.02 529.73,167.02 529.98,167.02 530.00,167.02 530.23,167.02 530.48,167.02 530.50,167.02 530.73,167.03 530.98,167.03 531.00,167.03 531.23,167.03 531.48,167.03 531.50,167.03 531.73,167.03 531.98,167.04 532.00,167.04 532.23,167.04 532.48,167.05 532.50,167.05 532.73,167.05 532.98,167.05 533.00,167.05" fill="none" stroke="#0000ff" stroke-width="1.75" stroke-linejoin="round"/><path d="M39.00,272.49 39.50,272.49 40.00,272.50 40.50,272.50 41.00,272.51 41.50,272.52 42.00,272.52 42.50,272.53 43.00,272.54 43.50,272.55 44.00,272.56 44.50,272.57 45.00,272.58 45.50,272.59 46.00,272.60 46.50,272.61 47.00,272.62 47.50,272.63 48.00,272.65 48.50,272.66 49.00,272.67 49.50,272.68 50.00,272.69 50.50,272.70 51.00,272.71 51.50,272.72 52.00,272.73 52.50,272.74 53.00,272.75 53.50,272.76 54.00,272.77 54.50,272.78 55.00,272.79 55.50,272.79 56.00,272.80 56.50,272.81 57.00,272.82 57.50,272.82 58.00,272.83 58.50,272.83 59.00,272.84 59.45,272.84 59.50,272.84 59.70,272.85 59.95,272.85 60.00,272.85 60.20,272.85 60.45,272.85 60.50,272.85 60.70,272.85 60.95,272.86 61.00,272.86 61.20,272.86 61.45,272.86 61.50,272.86 61.70,272.86 61.95,272.86 62.00,272.86 62.20,272.86 62.45,272.86 62.50,272.86 62.70,272.86 62.95,272.87 63.00,272.87 63.20,272.87 63.45,272.87 63.50,272.87 63.70,272.87 63.95,272.87 64.00,272.87 64.20,272.87 64.45,272.87 64.50,272.87 64.70,272.87 64.95,272.87 65.00,272.87 65.20,272.86 65.45,272.86 65.50,272.86 65.70,272.86 65.95,272.86 66.00,272.86 66.20,272.86 66.45,272.86 66.50,272.86 66.70,272.86 66.95,272.85 67.00,272.85 67.20,272.85 67.45,272.85 67.50,272.85 67.70,272.84 67.95,272.84 68.00,272.84 68.20,272.84 68.24,272.84 68.32,272.83 68.40,272.83 68.45,272.83 68.48,272.83 68.50,272.83 68.56,272.83 68.64,272.83 68.70,272.83 68.72,272.82 68.80,272.82 68.88,272.82 68.95,272.82 68.96,272.82 69.00,272.82 69.04,272.81 69.12,272.81 69.20,272.81 69.28,272.80 69.36,272.79 69.44,272.79 69.45,272.78 69.50,272.78 69.52,272.78 69.60,272.76 69.68,272.75 69.70,272.75 69.76,272.73 69.84,272.71 69.92,272.69 69.95,272.67 70.00,272.66 70.08,272.62 70.16,272.58 70.20,272.56 70.24,272.53 70.32,272.48 70.40,272.42 70.45,272.38 70.48,272.36 70.50,272.34 70.56,272.29 70.64,272.23 70.70,272.18 70.72,272.16 70.80,272.10 70.88,272.04 70.95,271.99 70.96,271.99 71.00,271.97 71.04,271.95 71.12,271.92 71.20,271.91 71.28,271.92 71.36,271.94 71.44,271.98 71.45,271.99 71.50,272.02 71.52,272.03 71.60,272.08 71.68,272.15 71.70,272.16 71.76,272.21 71.84,272.27 71.92,272.34 71.95,272.36 72.00,272.40 72.08,272.45 72.16,272.50 72.20,272.52 72.24,272.54 72.32,272.58 72.40,272.62 72.45,272.64 72.48,272.64 72.50,272.65 72.56,272.67 72.64,272.69 72.70,272.70 72.72,272.70 72.80,272.71 72.88,272.72 72.95,272.73 72.96,272.73 73.00,272.73 73.04,272.74 73.12,272.74 73.20,272.74 73.28,272.74 73.36,272.75 73.44,272.75 73.45,272.75 73.50,272.75 73.52,272.75 73.60,272.75 73.68,272.75 73.70,272.75 73.76,272.75 73.84,272.75 73.92,272.75 73.95,272.74 74.00,272.74 74.08,272.74 74.16,272.74 74.20,272.74 74.45,272.74 74.50,272.74 74.70,272.74 74.95,272.73 75.00,272.73 75.20,272.73 75.45,272.72 75.50,272.72 75.70,272.72 75.95,272.71 76.00,272.71 76.20,272.71 76.45,272.70 76.50,272.70 76.70,272.70 76.95,272.69 77.00,272.69 77.20,272.69 77.45,272.68 77.50,272.68 77.70,272.67 77.95,272.67 78.00,272.67 78.20,272.66 78.45,272.66 78.50,272.66 78.70,272.65 78.95,272.65 79.00,272.64 79.20,272.64 79.45,272.63 79.50,272.63 79.70,272.63 79.95,272.62 80.00,272.62 80.20,272.62 80.45,272.61 80.50,272.61 80.70,272.61 80.95,272.60 81.00,272.60 81.20,272.60 81.45,272.59 81.50,272.59 81.70,272.59 81.95,272.58 82.00,272.58 82.20,272.58 82.45,272.57 82.50,272.57 82.70,272.57 82.95,272.57 83.00,272.57 83.50,272.56 84.00,272.55 84.50,272.54 85.00,272.54 85.50,272.53 86.00,272.53 86.50,272.53 87.00,272.52 87.50,272.52 88.00,272.52 88.50,272.52 89.00,272.52 89.50,272.52 90.00,272.53 90.50,272.53 91.00,272.53 91.50,272.54 92.00,272.54 92.50,272.55 93.00,272.56 93.50,272.56 94.00,272.57 94.50,272.58 95.00,272.58 95.50,272.59 96.00,272.60 96.50,272.61 97.00,272.62 97.50,272.63 98.00,272.63 98.50,272.64 99.00,272.65 99.50,272.66 100.00,272.66 100.50,272.67 101.00,272.68 101.50,272.68 102.00,272.69 102.50,272.69 103.00,272.69 103.50,272.70 104.00,272.70 104.50,272.70 105.00,272.71 105.50,272.71 106.00,272.71 106.50,272.71 107.00,272.71 107.50,272.71 108.00,272.71 108.50,272.70 109.00,272.70 109.50,272.70 110.00,272.70 110.50,272.70 111.00,272.69 111.50,272.69 112.00,272.69 112.50,272.68 113.00,272.68 113.50,272.68 114.00,272.68 114.50,272.67 115.00,272.67 115.50,272.67 116.00,272.66 116.50,272.66 117.00,272.66 117.50,272.65 118.00,272.65 118.50,272.65 119.00,272.64 119.50,272.64 120.00,272.63 120.50,272.62 121.00,272.61 121.50,272.60 122.00,272.58 122.50,272.56 123.00,272.54 123.42,272.51 123.50,272.50 123.67,272.49 123.92,272.47 124.00,272.46 124.17,272.45 124.42,272.42 124.50,272.41 124.67,272.39 124.92,272.35 125.00,272.34 125.17,272.31 125.42,272.26 125.50,272.24 125.67,272.21 125.92,272.14 126.00,272.12 126.17,272.06 126.42,271.97 126.50,271.94 126.67,271.86 126.92,271.72 127.00,271.68 127.17,271.56 127.42,271.35 127.50,271.28 127.67,271.09 127.92,270.75 128.00,270.62 128.17,270.30 128.42,269.69 128.50,269.45 128.66,268.88 128.67,268.84 128.74,268.53 128.82,268.14 128.90,267.70 128.92,267.57 128.98,267.18 129.00,267.03 129.06,266.56 129.14,265.83 129.17,265.52 129.22,264.93 129.30,263.81 129.38,262.36 129.42,261.49 129.46,260.48 129.50,259.33 129.54,258.00 129.62,254.73 129.67,252.20 129.70,250.47 129.78,245.00 129.86,238.14 129.92,232.01 129.94,229.79 130.00,222.55 130.02,219.97 130.10,208.94 130.17,198.74 130.18,197.28 130.26,186.02 130.34,176.65 130.42,170.63 130.50,168.63 130.58,170.19 130.66,174.09 130.67,174.68 130.74,179.30 130.82,185.43 130.90,192.55 130.92,194.51 130.98,200.79 131.00,203.00 131.06,209.86 131.14,219.12 131.17,222.50 131.22,227.90 131.30,235.77 131.38,242.52 131.42,245.47 131.46,248.14 131.50,250.55 131.54,252.70 131.62,256.32 131.67,258.18 131.70,259.16 131.78,261.37 131.86,263.07 131.92,264.09 131.94,264.40 132.00,265.20 132.02,265.44 132.10,266.27 132.17,266.87 132.18,266.95 132.42,268.40 132.50,268.76 132.67,269.39 132.92,270.08 133.00,270.25 133.17,270.57 133.42,270.94 133.50,271.04 133.67,271.23 133.92,271.45 134.00,271.51 134.17,271.62 134.42,271.76 134.50,271.80 134.67,271.88 134.92,271.97 135.00,272.00 135.17,272.05 135.42,272.11 135.50,272.13 135.67,272.17 135.92,272.21 136.00,272.23 136.17,272.25 136.42,272.29 136.50,272.30 136.67,272.31 136.92,272.34 137.00,272.34 137.17,272.36 137.42,272.37 137.50,272.38 138.00,272.40 138.50,272.42 139.00,272.43 139.50,272.43 140.00,272.43 140.50,272.43 141.00,272.43 141.50,272.42 142.00,272.42 142.50,272.41 143.00,272.40 143.50,272.39 144.00,272.38 144.50,272.37 145.00,272.36 145.50,272.36 146.00,272.35 146.50,272.34 147.00,272.33 147.50,272.33 148.00,272.32 148.50,272.32 149.00,272.31 149.50,272.31 150.00,272.31 150.50,272.31 151.00,272.30 151.50,272.30 152.00,272.30 152.50,272.30 153.00,272.29 153.37,272.29 153.50,272.29 153.62,272.28 153.87,272.28 154.00,272.28 154.12,272.27 154.37,272.27 154.50,272.26 154.62,272.26 154.87,272.25 155.00,272.24 155.12,272.23 155.37,272.22 155.50,272.21 155.62,272.20 155.87,272.18 156.00,272.16 156.12,272.15 156.37,272.12 156.50,272.10 156.62,272.08 156.87,272.03 157.00,272.01 157.12,271.98 157.37,271.91 157.50,271.86 157.62,271.82 157.87,271.71 158.00,271.65 158.12,271.58 158.37,271.40 158.50,271.29 158.62,271.17 158.87,270.87 159.00,270.67 159.12,270.45 159.20,270.28 159.28,270.10 159.36,269.89 159.37,269.86 159.44,269.65 159.50,269.45 159.52,269.38 159.60,269.06 159.62,268.97 159.68,268.69 159.76,268.24 159.84,267.70 159.87,267.46 159.92,267.02 160.00,266.16 160.08,265.06 160.12,264.40 160.16,263.65 160.24,261.85 160.32,259.56 160.37,257.84 160.40,256.70 160.48,253.19 160.50,252.20 160.56,248.99 160.62,245.38 160.64,244.09 160.72,238.58 160.80,232.63 160.87,227.34 160.88,226.60 160.96,221.00 161.00,218.57 161.04,216.49 161.12,213.67 161.20,212.76 161.28,213.52 161.36,215.42 161.37,215.71 161.44,217.94 161.50,220.05 161.52,220.79 161.60,223.93 161.62,224.77 161.68,227.48 161.76,231.53 161.84,236.01 161.87,237.75 161.92,240.66 162.00,245.21 162.08,249.43 162.12,251.37 162.16,253.19 162.24,256.43 162.32,259.18 162.37,260.65 162.40,261.45 162.48,263.30 162.50,263.70 162.56,264.79 162.62,265.70 162.64,265.98 162.72,266.92 162.80,267.67 162.87,268.21 162.88,268.28 162.96,268.77 163.00,268.98 163.04,269.17 163.12,269.51 163.37,270.29 163.50,270.59 163.62,270.82 163.87,271.20 164.00,271.36 164.12,271.48 164.37,271.71 164.50,271.80 164.62,271.88 164.87,272.02 165.00,272.08 165.12,272.13 165.37,272.23 165.50,272.27 165.62,272.31 165.87,272.37 166.00,272.40 166.12,272.43 166.37,272.48 166.50,272.50 166.62,272.52 166.87,272.56 167.00,272.57 167.12,272.59 167.37,272.62 167.50,272.63 167.62,272.64 167.87,272.67 168.00,272.68 168.12,272.69 168.37,272.70 168.50,272.71 168.62,272.72 168.87,272.73 169.00,272.74 169.50,272.76 170.00,272.78 170.50,272.79 171.00,272.80 171.50,272.80 172.00,272.81 172.50,272.81 173.00,272.81 173.50,272.81 174.00,272.80 174.50,272.80 175.00,272.79 175.50,272.78 176.00,272.78 176.50,272.77 177.00,272.76 177.50,272.75 178.00,272.74 178.50,272.73 179.00,272.72 179.50,272.71 180.00,272.70 180.50,272.69 181.00,272.68 181.50,272.68 182.00,272.67 182.50,272.66 183.00,272.65 183.50,272.65 184.00,272.64 184.50,272.63 185.00,272.63 185.50,272.62 186.00,272.62 186.50,272.62 187.00,272.61 187.50,272.61 188.00,272.61 188.50,272.61 189.00,272.61 189.50,272.61 190.00,272.61 190.50,272.61 191.00,272.60 191.50,272.61 192.00,272.61 192.50,272.61 193.00,272.61 193.50,272.61 194.00,272.61 194.50,272.61 195.00,272.61 195.50,272.61 196.00,272.61 196.50,272.61 197.00,272.61 197.50,272.61 198.00,272.61 198.50,272.61 199.00,272.60 199.50,272.60 200.00,272.60 200.50,272.60 201.00,272.60 201.50,272.60 202.00,272.60 202.50,272.60 203.00,272.60 203.50,272.59 204.00,272.59 204.50,272.59 205.00,272.59 205.50,272.59 206.00,272.59 206.50,272.59 207.00,272.59 207.50,272.59 208.00,272.59 208.50,272.60 209.00,272.60 209.50,272.60 210.00,272.60 210.50,272.61 211.00,272.61 211.50,272.62 212.00,272.62 212.50,272.63 213.00,272.63 213.50,272.64 214.00,272.64 214.50,272.65 215.00,272.66 215.50,272.67 216.00,272.67 216.50,272.68 217.00,272.69 217.50,272.70 218.00,272.71 218.50,272.72 219.00,272.72 219.50,272.73 220.00,272.74 220.50,272.75 221.00,272.76 221.50,272.77 222.00,272.77 222.50,272.78 223.00,272.79 223.50,272.79 224.00,272.80 224.50,272.81 225.00,272.81 225.50,272.82 226.00,272.82 226.50,272.83 227.00,272.83 227.50,272.83 228.00,272.83 228.50,272.83 229.00,272.84 229.50,272.84 230.00,272.84 230.50,272.84 231.00,272.83 231.50,272.83 232.00,272.83 232.50,272.83 233.00,272.82 233.50,272.82 234.00,272.82 234.50,272.81 235.00,272.81 235.50,272.80 236.00,272.80 236.50,272.79 237.00,272.79 237.50,272.78 238.00,272.77 238.50,272.77 239.00,272.76 239.50,272.75 240.00,272.75 240.50,272.74 241.00,272.73 241.50,272.72 242.00,272.72 242.50,272.71 243.00,272.70 243.50,272.69 244.00,272.68 244.50,272.67 245.00,272.66 245.50,272.66 246.00,272.65 246.50,272.64 247.00,272.63 247.50,272.62 248.00,272.61 248.50,272.60 249.00,272.59 249.50,272.58 250.00,272.57 250.50,272.56 251.00,272.55 251.50,272.53 252.00,272.52 252.50,272.51 252.99,272.50 253.00,272.50 253.24,272.49 253.49,272.48 253.50,272.48 253.74,272.48 253.99,272.47 254.00,272.47 254.24,272.46 254.49,272.45 254.50,272.45 254.74,272.44 254.99,272.44 255.00,272.44 255.24,272.43 255.49,272.42 255.50,272.42 255.74,272.40 255.99,272.39 256.00,272.39 256.24,272.38 256.49,272.37 256.50,272.37 256.74,272.35 256.99,272.33 257.00,272.33 257.24,272.31 257.49,272.29 257.50,272.29 257.74,272.27 257.99,272.24 258.00,272.24 258.24,272.21 258.49,272.17 258.50,272.17 258.74,272.12 258.99,272.06 259.00,272.06 259.24,271.99 259.49,271.91 259.50,271.90 259.74,271.79 259.92,271.69 259.99,271.65 260.00,271.64 260.08,271.58 260.16,271.52 260.24,271.45 260.32,271.37 260.40,271.28 260.48,271.18 260.49,271.16 260.50,271.15 260.56,271.06 260.64,270.92 260.72,270.76 260.74,270.71 260.80,270.56 260.88,270.32 260.96,270.02 260.99,269.89 261.00,269.85 261.04,269.66 261.12,269.21 261.20,268.66 261.24,268.34 261.28,267.99 261.36,267.19 261.44,266.24 261.49,265.56 261.50,265.42 261.52,265.13 261.60,263.86 261.68,262.43 261.74,261.27 261.76,260.87 261.84,259.23 261.92,257.56 261.99,256.16 262.00,255.97 262.08,254.59 262.16,253.55 262.24,252.95 262.32,252.82 262.40,253.12 262.48,253.73 262.49,253.82 262.50,253.91 262.56,254.49 262.64,255.30 262.72,256.07 262.74,256.25 262.80,256.75 262.88,257.35 262.96,257.92 262.99,258.13 263.00,258.20 263.04,258.50 263.12,259.17 263.20,259.97 263.24,260.42 263.28,260.90 263.36,261.93 263.44,263.02 263.49,263.69 263.50,263.83 263.52,264.09 263.60,265.13 263.68,266.08 263.74,266.74 263.76,266.95 263.84,267.71 263.92,268.38 263.99,268.89 264.00,268.96 264.08,269.44 264.16,269.85 264.24,270.19 264.32,270.48 264.40,270.71 264.48,270.90 264.49,270.92 264.50,270.94 264.56,271.06 264.74,271.34 264.99,271.60 265.00,271.61 265.24,271.78 265.49,271.91 265.50,271.92 265.74,272.02 265.99,272.10 266.00,272.10 266.24,272.17 266.49,272.22 266.50,272.23 266.74,272.27 266.99,272.31 267.00,272.31 267.24,272.35 267.49,272.38 267.50,272.38 267.74,272.41 267.99,272.43 268.00,272.43 268.24,272.46 268.49,272.48 268.50,272.48 268.74,272.50 268.99,272.51 269.00,272.52 269.24,272.53 269.49,272.55 269.50,272.55 269.74,272.56 269.99,272.58 270.00,272.58 270.24,272.59 270.49,272.61 270.50,272.61 270.74,272.62 270.99,272.63 271.00,272.63 271.24,272.65 271.49,272.66 271.50,272.66 272.00,272.68 272.50,272.70 273.00,272.72 273.50,272.75 274.00,272.76 274.50,272.78 275.00,272.80 275.50,272.82 276.00,272.83 276.50,272.85 277.00,272.86 277.50,272.87 278.00,272.88 278.50,272.89 279.00,272.90 279.50,272.91 280.00,272.92 280.50,272.92 281.00,272.92 281.50,272.92 282.00,272.92 282.50,272.92 283.00,272.92 283.50,272.91 284.00,272.91 284.50,272.90 285.00,272.89 285.50,272.88 286.00,272.87 286.50,272.86 287.00,272.85 287.50,272.84 288.00,272.82 288.50,272.81 289.00,272.79 289.50,272.78 290.00,272.76 290.50,272.74 291.00,272.73 291.50,272.71 292.00,272.69 292.50,272.68 293.00,272.66 293.50,272.64 294.00,272.63 294.50,272.61 295.00,272.60 295.50,272.59 296.00,272.58 296.50,272.56 297.00,272.55 297.50,272.54 298.00,272.54 298.50,272.53 299.00,272.52 299.50,272.52 300.00,272.51 300.50,272.51 301.00,272.51 301.50,272.51 302.00,272.51 302.50,272.51 303.00,272.51 303.50,272.51 304.00,272.51 304.50,272.52 305.00,272.52 305.50,272.53 306.00,272.53 306.50,272.54 307.00,272.54 307.50,272.55 308.00,272.56 308.50,272.56 309.00,272.57 309.50,272.57 310.00,272.57 310.50,272.58 311.00,272.58 311.50,272.58 312.00,272.59 312.50,272.59 313.00,272.59 313.17,272.58 313.42,272.58 313.50,272.58 313.67,272.58 313.92,272.58 314.00,272.58 314.17,272.58 314.42,272.58 314.50,272.58 314.67,272.57 314.92,272.57 315.00,272.57 315.17,272.57 315.42,272.56 315.50,272.56 315.67,272.56 315.92,272.56 316.00,272.55 316.17,272.55 316.42,272.54 316.50,272.54 316.67,272.54 316.92,272.53 317.00,272.53 317.17,272.52 317.42,272.51 317.50,272.51 317.67,272.51 317.92,272.50 318.00,272.49 318.17,272.48 318.42,272.47 318.50,272.47 318.67,272.46 318.92,272.45 319.00,272.44 319.17,272.43 319.42,272.42 319.50,272.41 319.67,272.40 319.92,272.38 320.00,272.37 320.17,272.36 320.42,272.33 320.50,272.32 320.67,272.30 320.92,272.28 321.00,272.27 321.17,272.24 321.42,272.21 321.50,272.19 321.67,272.16 321.92,272.12 322.00,272.10 322.17,272.06 322.42,272.00 322.50,271.98 322.67,271.93 322.92,271.85 323.00,271.82 323.17,271.76 323.42,271.64 323.50,271.60 323.65,271.52 323.67,271.51 323.73,271.47 323.81,271.42 323.89,271.37 323.92,271.35 323.97,271.31 324.00,271.29 324.05,271.25 324.13,271.18 324.17,271.15 324.21,271.11 324.29,271.03 324.37,270.95 324.42,270.89 324.45,270.86 324.50,270.79 324.53,270.76 324.61,270.65 324.67,270.56 324.69,270.52 324.77,270.39 324.85,270.24 324.92,270.09 324.93,270.06 325.00,269.89 325.01,269.87 325.09,269.65 325.17,269.39 325.25,269.10 325.33,268.77 325.41,268.39 325.42,268.34 325.49,267.95 325.50,267.89 325.57,267.45 325.65,266.87 325.67,266.72 325.73,266.22 325.81,265.48 325.89,264.65 325.92,264.31 325.97,263.71 326.00,263.34 326.05,262.68 326.13,261.54 326.17,260.93 326.21,260.30 326.29,258.95 326.37,257.51 326.42,256.57 326.45,255.99 326.50,255.01 326.53,254.41 326.61,252.78 326.67,251.56 326.69,251.15 326.77,249.56 326.85,248.06 326.92,246.86 326.93,246.70 327.00,245.68 327.01,245.54 327.09,244.64 327.17,244.03 327.25,243.71 327.33,243.67 327.41,243.88 327.42,243.93 327.49,244.30 327.50,244.36 327.57,244.85 327.65,245.50 327.67,245.67 327.73,246.20 327.81,246.92 327.89,247.65 327.92,247.92 327.97,248.38 328.00,248.66 328.05,249.13 328.13,249.90 328.17,250.31 328.21,250.73 328.29,251.62 328.37,252.58 328.42,253.22 328.45,253.62 328.50,254.31 328.53,254.73 328.61,255.88 328.67,256.76 328.69,257.06 328.77,258.24 328.85,259.40 328.92,260.38 328.93,260.51 329.00,261.45 329.01,261.58 329.09,262.58 329.17,263.51 329.25,264.37 329.33,265.16 329.41,265.88 329.42,265.97 329.49,266.53 329.50,266.61 329.57,267.12 329.65,267.64 329.67,267.76 329.73,268.11 329.81,268.52 329.89,268.89 329.92,269.02 329.97,269.22 330.00,269.33 330.05,269.50 330.13,269.75 330.17,269.87 330.21,269.97 330.29,270.17 330.37,270.34 330.42,270.44 330.45,270.50 330.50,270.58 330.53,270.63 330.61,270.75 330.67,270.84 330.69,270.86 330.92,271.13 331.00,271.20 331.17,271.35 331.42,271.52 331.50,271.57 331.67,271.67 331.92,271.79 332.00,271.82 332.17,271.89 332.42,271.97 332.50,272.00 332.67,272.05 332.92,272.11 333.00,272.13 333.17,272.17 333.42,272.22 333.50,272.24 333.67,272.27 333.92,272.31 334.00,272.32 334.17,272.35 334.42,272.38 334.50,272.39 334.67,272.41 334.92,272.44 335.00,272.45 335.17,272.46 335.42,272.49 335.50,272.49 335.67,272.51 335.92,272.53 336.00,272.54 336.17,272.55 336.38,272.56 336.42,272.57 336.50,272.57 336.63,272.58 336.67,272.58 336.88,272.60 336.92,272.60 337.00,272.60 337.13,272.61 337.17,272.61 337.38,272.63 337.42,272.63 337.50,272.63 337.63,272.64 337.67,272.64 337.88,272.65 337.92,272.65 338.00,272.66 338.13,272.66 338.17,272.66 338.38,272.67 338.42,272.68 338.50,272.68 338.63,272.68 338.67,272.69 338.88,272.69 338.92,272.70 339.00,272.70 339.13,272.70 339.17,272.70 339.38,272.71 339.42,272.71 339.50,272.72 339.63,272.72 339.67,272.72 339.88,272.73 339.92,272.73 340.00,272.73 340.13,272.73 340.17,272.73 340.38,272.74 340.42,272.74 340.50,272.74 340.63,272.74 340.67,272.75 340.88,272.75 340.92,272.75 341.00,272.75 341.13,272.75 341.17,272.75 341.38,272.76 341.50,272.76 341.63,272.76 341.88,272.76 342.00,272.76 342.13,272.76 342.38,272.76 342.50,272.76 342.63,272.76 342.88,272.76 343.00,272.76 343.13,272.76 343.38,272.75 343.50,272.75 343.63,272.75 343.88,272.74 344.00,272.73 344.13,272.73 344.38,272.72 344.50,272.71 344.63,272.70 344.88,272.68 345.00,272.67 345.13,272.66 345.17,272.65 345.25,272.64 345.33,272.63 345.38,272.63 345.41,272.62 345.49,272.61 345.50,272.61 345.57,272.60 345.63,272.59 345.65,272.58 345.73,272.57 345.81,272.55 345.88,272.53 345.89,272.53 345.97,272.51 346.00,272.50 346.05,272.49 346.13,272.46 346.21,272.42 346.29,272.38 346.37,272.34 346.38,272.33 346.45,272.28 346.50,272.24 346.53,272.22 346.61,272.14 346.63,272.11 346.69,272.04 346.77,271.93 346.85,271.79 346.88,271.74 346.93,271.63 347.00,271.47 347.01,271.45 347.09,271.24 347.13,271.12 347.17,270.99 347.25,270.72 347.33,270.42 347.38,270.22 347.41,270.09 347.49,269.74 347.50,269.69 347.57,269.37 347.63,269.09 347.65,268.99 347.73,268.62 347.81,268.26 347.88,267.97 347.89,267.93 347.97,267.66 348.00,267.58 348.05,267.46 348.13,267.34 348.21,267.31 348.29,267.35 348.37,267.46 348.38,267.48 348.45,267.62 348.50,267.74 348.53,267.81 348.61,268.00 348.63,268.05 348.69,268.19 348.77,268.37 348.85,268.53 348.88,268.58 348.93,268.67 349.00,268.77 349.01,268.78 349.09,268.89 349.13,268.94 349.17,268.99 349.25,269.10 349.33,269.22 349.38,269.31 349.41,269.36 349.49,269.53 349.50,269.56 349.57,269.72 349.63,269.88 349.65,269.94 349.73,270.16 349.81,270.39 349.88,270.58 349.89,270.61 349.97,270.83 350.00,270.91 350.05,271.03 350.13,271.23 350.21,271.40 350.29,271.56 350.37,271.70 350.38,271.72 350.45,271.83 350.50,271.90 350.53,271.94 350.61,272.03 350.63,272.06 350.69,272.12 350.77,272.18 350.85,272.24 350.88,272.26 350.93,272.29 351.00,272.33 351.01,272.33 351.09,272.37 351.13,272.38 351.38,272.45 351.50,272.48 351.63,272.50 351.88,272.52 352.00,272.53 352.13,272.54 352.38,272.56 352.50,272.56 352.63,272.57 352.88,272.58 353.00,272.58 353.13,272.58 353.38,272.58 353.50,272.58 353.63,272.58 353.88,272.58 354.00,272.58 354.13,272.58 354.38,272.58 354.50,272.58 354.63,272.58 354.88,272.57 355.00,272.57 355.13,272.57 355.38,272.56 355.50,272.56 355.63,272.56 355.88,272.55 356.00,272.55 356.13,272.55 356.38,272.54 356.50,272.54 356.63,272.54 356.88,272.53 357.00,272.53 357.13,272.53 357.38,272.52 357.50,272.52 357.63,272.52 357.88,272.51 358.00,272.51 358.13,272.51 358.38,272.50 358.50,272.50 358.63,272.50 358.88,272.49 359.00,272.49 359.13,272.49 359.38,272.48 359.50,272.48 359.63,272.48 359.88,272.47 360.00,272.47 360.50,272.47 361.00,272.46 361.50,272.45 362.00,272.45 362.50,272.45 363.00,272.44 363.50,272.44 364.00,272.44 364.50,272.44 365.00,272.45 365.50,272.45 366.00,272.45 366.50,272.46 367.00,272.47 367.50,272.47 368.00,272.48 368.50,272.49 369.00,272.50 369.50,272.51 370.00,272.52 370.50,272.53 371.00,272.54 371.50,272.56 372.00,272.57 372.50,272.58 373.00,272.60 373.50,272.61 374.00,272.62 374.50,272.64 375.00,272.65 375.50,272.66 376.00,272.68 376.50,272.69 377.00,272.70 377.50,272.71 378.00,272.72 378.50,272.74 379.00,272.75 379.50,272.76 380.00,272.77 380.50,272.78 381.00,272.78 381.50,272.79 382.00,272.80 382.50,272.81 383.00,272.81 383.50,272.82 384.00,272.83 384.50,272.83 385.00,272.84 385.50,272.84 386.00,272.84 386.50,272.85 387.00,272.85 387.50,272.85 388.00,272.85 388.50,272.85 389.00,272.85 389.50,272.85 390.00,272.85 390.50,272.85 391.00,272.85 391.50,272.85 392.00,272.85 392.50,272.85 393.00,272.84 393.50,272.84 394.00,272.84 394.50,272.83 395.00,272.83 395.50,272.83 396.00,272.82 396.50,272.82 397.00,272.81 397.50,272.80 398.00,272.80 398.50,272.79 399.00,272.78 399.50,272.78 400.00,272.77 400.50,272.76 401.00,272.75 401.50,272.74 402.00,272.73 402.50,272.73 403.00,272.72 403.50,272.71 404.00,272.70 404.50,272.69 405.00,272.68 405.50,272.67 406.00,272.66 406.50,272.65 407.00,272.64 407.50,272.63 408.00,272.62 408.50,272.61 409.00,272.60 409.50,272.60 410.00,272.59 410.50,272.58 411.00,272.57 411.50,272.57 412.00,272.56 412.50,272.56 413.00,272.55 413.08,272.55 413.33,272.55 413.50,272.55 413.58,272.55 413.83,272.54 414.00,272.54 414.08,272.54 414.33,272.54 414.50,272.54 414.58,272.54 414.83,272.54 415.00,272.54 415.08,272.54 415.33,272.54 415.50,272.54 415.58,272.54 415.83,272.54 416.00,272.54 416.08,272.54 416.33,272.54 416.50,272.54 416.58,272.54 416.83,272.54 417.00,272.54 417.08,272.54 417.33,272.54 417.50,272.54 417.58,272.54 417.83,272.54 418.00,272.54 418.08,272.54 418.33,272.54 418.50,272.54 418.58,272.54 418.83,272.54 419.00,272.54 419.08,272.55 419.33,272.55 419.50,272.55 419.58,272.55 419.83,272.55 420.00,272.55 420.08,272.55 420.33,272.56 420.50,272.56 420.58,272.56 420.83,272.56 421.00,272.56 421.08,272.56 421.33,272.56 421.50,272.57 421.58,272.57 421.83,272.57 422.00,272.57 422.08,272.57 422.33,272.58 422.50,272.58 422.58,272.58 422.83,272.58 423.00,272.58 423.08,272.58 423.33,272.59 423.50,272.59 423.58,272.59 423.83,272.59 424.00,272.59 424.08,272.59 424.33,272.60 424.50,272.60 424.58,272.60 424.83,272.60 425.00,272.60 425.08,272.60 425.33,272.60 425.50,272.60 425.58,272.60 425.83,272.61 426.00,272.61 426.08,272.61 426.33,272.61 426.43,272.60 426.50,272.60 426.51,272.60 426.58,272.60 426.59,272.60 426.67,272.60 426.75,272.60 426.83,272.60 426.91,272.60 426.99,272.60 427.00,272.60 427.07,272.60 427.08,272.60 427.15,272.60 427.23,272.60 427.31,272.59 427.33,272.59 427.39,272.59 427.47,272.59 427.50,272.59 427.55,272.59 427.58,272.59 427.63,272.58 427.71,272.58 427.79,272.58 427.83,272.57 427.87,272.57 427.95,272.56 428.00,272.56 428.03,272.56 428.08,272.55 428.11,272.55 428.19,272.54 428.27,272.53 428.33,272.52 428.35,272.51 428.43,272.49 428.50,272.48 428.51,272.48 428.58,272.46 428.59,272.45 428.67,272.43 428.75,272.40 428.83,272.36 428.91,272.33 428.99,272.28 429.00,272.28 429.07,272.23 429.08,272.23 429.15,272.18 429.23,272.12 429.31,272.05 429.33,272.04 429.39,271.98 429.47,271.90 429.50,271.87 429.55,271.82 429.58,271.79 429.63,271.73 429.71,271.64 429.79,271.54 429.83,271.49 429.87,271.44 429.95,271.33 430.00,271.27 430.03,271.23 430.08,271.16 430.11,271.12 430.19,271.02 430.27,270.92 430.33,270.85 430.35,270.82 430.43,270.73 430.50,270.66 430.51,270.65 430.58,270.59 430.59,270.58 430.67,270.52 430.75,270.47 430.83,270.44 430.91,270.42 430.99,270.41 431.00,270.41 431.07,270.42 431.08,270.42 431.15,270.43 431.23,270.46 431.31,270.49 431.33,270.50 431.39,270.53 431.47,270.58 431.50,270.60 431.55,270.63 431.58,270.64 431.63,270.67 431.71,270.72 431.79,270.78 431.83,270.80 431.87,270.83 431.95,270.87 432.00,270.91 432.03,270.92 432.08,270.95 432.11,270.97 432.19,271.02 432.27,271.07 432.33,271.11 432.35,271.12 432.43,271.18 432.50,271.23 432.51,271.23 432.58,271.29 432.59,271.29 432.67,271.35 432.75,271.42 432.83,271.48 432.91,271.55 432.99,271.62 433.00,271.63 433.07,271.69 433.08,271.70 433.15,271.76 433.23,271.82 433.31,271.89 433.33,271.91 433.39,271.96 433.47,272.02 433.50,272.04 433.55,272.08 433.58,272.10 433.63,272.13 433.71,272.19 433.79,272.24 433.83,272.26 433.87,272.28 433.95,272.33 434.00,272.35 434.03,272.37 434.08,272.39 434.11,272.40 434.19,272.44 434.27,272.47 434.33,272.49 434.35,272.49 434.43,272.52 434.50,272.54 434.51,272.54 434.58,272.56 434.59,272.56 434.67,272.57 434.75,272.59 434.83,272.60 434.91,272.61 434.99,272.62 435.00,272.63 435.07,272.63 435.08,272.63 435.15,272.64 435.23,272.65 435.33,272.65 435.50,272.67 435.58,272.67 435.83,272.68 436.00,272.69 436.08,272.69 436.33,272.69 436.50,272.70 436.58,272.70 436.83,272.70 437.00,272.71 437.08,272.71 437.33,272.71 437.50,272.71 437.58,272.71 437.83,272.72 438.00,272.72 438.08,272.72 438.33,272.72 438.50,272.72 438.58,272.72 438.83,272.72 439.00,272.73 439.08,272.73 439.33,272.73 439.50,272.73 439.58,272.73 439.83,272.73 440.00,272.73 440.08,272.73 440.33,272.73 440.50,272.73 440.58,272.73 440.83,272.73 441.00,272.73 441.08,272.73 441.33,272.74 441.50,272.74 441.58,272.74 441.83,272.74 442.00,272.74 442.08,272.74 442.33,272.74 442.50,272.74 442.58,272.74 442.83,272.74 443.00,272.74 443.08,272.74 443.33,272.74 443.50,272.74 443.58,272.74 443.83,272.75 444.00,272.75 444.08,272.75 444.33,272.75 444.50,272.75 444.58,272.75 444.83,272.75 445.00,272.75 445.08,272.75 445.33,272.75 445.50,272.76 445.58,272.76 445.83,272.76 446.00,272.76 446.08,272.76 446.33,272.76 446.50,272.76 446.58,272.76 446.83,272.77 447.00,272.77 447.08,272.77 447.33,272.77 447.50,272.77 447.58,272.77 447.83,272.77 448.00,272.77 448.08,272.78 448.33,272.78 448.50,272.78 448.58,272.78 449.00,272.78 449.50,272.79 450.00,272.79 450.50,272.80 451.00,272.80 451.50,272.81 452.00,272.81 452.50,272.81 453.00,272.82 453.50,272.82 454.00,272.82 454.50,272.83 455.00,272.83 455.50,272.83 456.00,272.83 456.50,272.83 457.00,272.83 457.50,272.82 458.00,272.82 458.50,272.82 459.00,272.81 459.50,272.81 460.00,272.80 460.50,272.79 461.00,272.78 461.50,272.77 462.00,272.76 462.50,272.75 463.00,272.74 463.50,272.73 464.00,272.71 464.50,272.70 465.00,272.68 465.50,272.67 466.00,272.65 466.50,272.64 467.00,272.62 467.50,272.60 468.00,272.59 468.50,272.57 469.00,272.56 469.50,272.54 470.00,272.52 470.50,272.51 471.00,272.50 471.50,272.48 472.00,272.47 472.50,272.46 473.00,272.45 473.34,272.44 473.50,272.44 473.59,272.44 473.84,272.43 474.00,272.43 474.09,272.43 474.34,272.43 474.50,272.42 474.59,272.42 474.84,272.42 475.00,272.42 475.09,272.42 475.34,272.42 475.50,272.41 475.59,272.41 475.84,272.41 476.00,272.41 476.09,272.41 476.34,272.41 476.50,272.41 476.59,272.41 476.84,272.41 477.00,272.41 477.09,272.41 477.34,272.41 477.50,272.41 477.59,272.41 477.84,272.42 478.00,272.42 478.09,272.42 478.34,272.42 478.50,272.42 478.59,272.42 478.84,272.42 479.00,272.43 479.09,272.43 479.34,272.43 479.50,272.43 479.59,272.44 479.84,272.44 480.00,272.44 480.09,272.44 480.34,272.45 480.50,272.45 480.59,272.45 480.84,272.46 481.00,272.46 481.09,272.47 481.34,272.47 481.50,272.48 481.59,272.48 481.84,272.48 482.00,272.49 482.09,272.49 482.34,272.50 482.50,272.50 482.59,272.50 482.84,272.51 483.00,272.52 483.09,272.52 483.34,272.53 483.50,272.53 483.59,272.53 483.84,272.54 484.00,272.54 484.09,272.55 484.34,272.55 484.50,272.56 484.59,272.56 484.84,272.57 485.00,272.57 485.09,272.58 485.34,272.58 485.50,272.59 485.59,272.59 485.84,272.60 486.00,272.60 486.09,272.60 486.34,272.61 486.50,272.61 486.59,272.61 486.84,272.62 487.00,272.62 487.09,272.62 487.34,272.63 487.50,272.63 487.59,272.63 487.84,272.63 488.00,272.63 488.09,272.63 488.34,272.64 488.50,272.64 488.59,272.63 488.84,272.63 489.00,272.63 489.09,272.63 489.34,272.63 489.48,272.62 489.50,272.62 489.56,272.62 489.59,272.62 489.64,272.62 489.72,272.61 489.80,272.61 489.84,272.61 489.88,272.61 489.96,272.60 490.00,272.60 490.04,272.60 490.09,272.60 490.12,272.60 490.20,272.59 490.28,272.59 490.34,272.58 490.36,272.58 490.44,272.58 490.50,272.57 490.52,272.57 490.59,272.56 490.60,272.56 490.68,272.55 490.76,272.55 490.84,272.54 490.92,272.53 491.00,272.52 491.08,272.50 491.09,272.50 491.16,272.49 491.24,272.48 491.32,272.46 491.34,272.46 491.40,272.44 491.48,272.42 491.50,272.42 491.56,272.40 491.59,272.39 491.64,272.38 491.72,272.35 491.80,272.32 491.84,272.30 491.88,272.28 491.96,272.25 492.00,272.23 492.04,272.21 492.09,272.18 492.12,272.16 492.20,272.11 492.28,272.05 492.34,272.01 492.36,271.99 492.44,271.92 492.50,271.87 492.52,271.85 492.59,271.77 492.60,271.76 492.68,271.67 492.76,271.58 492.84,271.47 492.92,271.36 493.00,271.23 493.08,271.10 493.09,271.08 493.16,270.96 493.24,270.81 493.32,270.65 493.34,270.61 493.40,270.48 493.48,270.31 493.50,270.26 493.56,270.13 493.59,270.06 493.64,269.94 493.72,269.74 493.80,269.54 493.84,269.44 493.88,269.34 493.96,269.14 494.00,269.03 494.04,268.93 494.09,268.81 494.12,268.73 494.20,268.54 494.28,268.35 494.34,268.21 494.36,268.17 494.44,268.00 494.50,267.89 494.52,267.86 494.59,267.74 494.60,267.73 494.68,267.62 494.76,267.54 494.84,267.48 494.92,267.44 495.00,267.43 495.08,267.44 495.09,267.44 495.16,267.47 495.24,267.52 495.32,267.59 495.34,267.61 495.40,267.67 495.48,267.75 495.50,267.78 495.56,267.85 495.59,267.88 495.64,267.95 495.72,268.04 495.80,268.14 495.84,268.19 495.88,268.24 495.96,268.33 496.00,268.38 496.04,268.42 496.09,268.48 496.12,268.51 496.20,268.59 496.28,268.67 496.34,268.72 496.36,268.74 496.44,268.82 496.50,268.87 496.52,268.89 496.59,268.95 496.60,268.96 496.68,269.04 496.76,269.11 496.84,269.20 496.92,269.29 497.00,269.38 497.08,269.48 497.09,269.50 497.16,269.59 497.24,269.70 497.32,269.82 497.34,269.85 497.40,269.95 497.48,270.07 497.50,270.11 497.56,270.20 497.59,270.25 497.64,270.33 497.67,270.38 497.72,270.46 497.80,270.59 497.84,270.66 497.88,270.72 497.92,270.78 497.96,270.84 498.00,270.90 498.04,270.96 498.09,271.04 498.12,271.08 498.17,271.15 498.20,271.19 498.28,271.30 498.34,271.38 498.36,271.40 498.42,271.48 498.44,271.50 498.50,271.57 498.52,271.59 498.59,271.67 498.60,271.68 498.67,271.75 498.68,271.76 498.76,271.84 498.84,271.91 498.92,271.98 499.00,272.04 499.08,272.10 499.09,272.11 499.16,272.15 499.17,272.16 499.24,272.20 499.32,272.25 499.34,272.26 499.40,272.29 499.42,272.30 499.48,272.32 499.50,272.33 499.56,272.36 499.59,272.37 499.64,272.39 499.67,272.40 499.72,272.42 499.80,272.44 499.84,272.45 499.88,272.46 499.92,272.48 499.96,272.49 500.00,272.50 500.04,272.50 500.09,272.52 500.12,272.52 500.17,272.53 500.20,272.54 500.34,272.56 500.42,272.57 500.50,272.58 500.59,272.60 500.67,272.60 500.84,272.62 500.92,272.63 501.00,272.63 501.09,272.64 501.17,272.65 501.34,272.66 501.42,272.66 501.50,272.66 501.59,272.67 501.67,272.67 501.84,272.68 501.92,272.68 502.00,272.68 502.09,272.68 502.17,272.69 502.34,272.69 502.42,272.69 502.50,272.69 502.59,272.69 502.67,272.69 502.84,272.70 502.92,272.70 503.00,272.70 503.09,272.70 503.17,272.70 503.34,272.70 503.42,272.70 503.50,272.70 503.59,272.70 503.67,272.70 503.84,272.70 503.92,272.70 504.00,272.70 504.09,272.70 504.17,272.70 504.34,272.69 504.42,272.69 504.50,272.69 504.59,272.69 504.67,272.69 504.84,272.69 504.92,272.69 505.00,272.69 505.09,272.69 505.17,272.68 505.34,272.68 505.42,272.68 505.50,272.68 505.59,272.68 505.67,272.68 505.84,272.67 505.92,272.67 506.00,272.67 506.09,272.67 506.17,272.67 506.34,272.66 506.42,272.66 506.50,272.66 506.59,272.66 506.67,272.66 506.84,272.65 506.92,272.65 507.00,272.65 507.09,272.65 507.17,272.65 507.34,272.64 507.42,272.64 507.50,272.64 507.59,272.64 507.67,272.63 507.84,272.63 507.92,272.63 508.00,272.63 508.09,272.62 508.17,272.62 508.34,272.62 508.42,272.62 508.50,272.61 508.59,272.61 508.67,272.61 508.84,272.61 508.92,272.60 509.00,272.60 509.09,272.60 509.17,272.60 509.34,272.59 509.42,272.59 509.50,272.59 509.59,272.58 509.67,272.58 509.84,272.58 509.92,272.58 510.00,272.57 510.09,272.57 510.17,272.57 510.34,272.56 510.42,272.56 510.50,272.56 510.59,272.55 510.67,272.55 510.84,272.55 510.92,272.54 511.00,272.54 511.09,272.54 511.17,272.53 511.34,272.53 511.42,272.53 511.50,272.52 511.59,272.52 511.67,272.51 511.84,272.51 511.92,272.50 512.00,272.50 512.09,272.50 512.17,272.49 512.34,272.48 512.42,272.48 512.50,272.47 512.54,272.47 512.59,272.47 512.62,272.47 512.67,272.46 512.70,272.46 512.78,272.46 512.84,272.45 512.86,272.45 512.92,272.45 512.94,272.45 513.00,272.44 513.02,272.44 513.09,272.44 513.10,272.43 513.17,272.43 513.18,272.43 513.26,272.42 513.34,272.41 513.42,272.41 513.50,272.40 513.58,272.39 513.59,272.39 513.66,272.38 513.67,272.38 513.74,272.37 513.82,272.36 513.84,272.36 513.90,272.35 513.92,272.35 513.98,272.34 514.00,272.34 514.06,272.33 514.09,272.32 514.14,272.31 514.17,272.31 514.22,272.30 514.30,272.28 514.34,272.27 514.38,272.26 514.42,272.25 514.46,272.24 514.50,272.23 514.54,272.22 514.59,272.20 514.62,272.19 514.67,272.18 514.70,272.16 514.78,272.13 514.84,272.11 514.86,272.10 514.92,272.07 514.94,272.06 515.00,272.03 515.02,272.01 515.09,271.97 515.10,271.97 515.17,271.92 515.18,271.91 515.26,271.85 515.34,271.79 515.42,271.71 515.50,271.63 515.58,271.55 515.59,271.53 515.66,271.45 515.67,271.44 515.74,271.35 515.82,271.24 515.84,271.21 515.90,271.12 515.92,271.09 515.98,270.99 516.00,270.96 516.06,270.86 516.09,270.81 516.14,270.72 516.17,270.66 516.22,270.57 516.30,270.42 516.34,270.34 516.38,270.26 516.42,270.18 516.46,270.10 516.50,270.01 516.54,269.93 516.62,269.77 516.67,269.66 516.70,269.60 516.78,269.44 516.86,269.29 516.92,269.17 516.94,269.14 517.00,269.04 517.02,269.01 517.10,268.89 517.17,268.80 517.18,268.79 517.26,268.70 517.34,268.65 517.42,268.61 517.50,268.60 517.58,268.61 517.66,268.64 517.67,268.65 517.74,268.69 517.82,268.76 517.90,268.84 517.92,268.86 517.98,268.93 518.00,268.95 518.06,269.03 518.14,269.12 518.17,269.16 518.22,269.22 518.30,269.32 518.38,269.41 518.42,269.46 518.46,269.50 518.50,269.54 518.54,269.58 518.62,269.66 518.67,269.70 518.70,269.72 518.78,269.78 518.86,269.83 518.92,269.86 518.94,269.87 519.00,269.90 519.02,269.91 519.10,269.94 519.17,269.97 519.18,269.97 519.26,269.99 519.34,270.02 519.42,270.04 519.50,270.07 519.58,270.10 519.66,270.14 519.67,270.15 519.74,270.19 519.82,270.25 519.90,270.31 519.92,270.32 519.98,270.38 520.00,270.40 520.06,270.46 520.14,270.54 520.17,270.57 520.22,270.63 520.30,270.72 520.38,270.81 520.42,270.86 520.46,270.91 520.50,270.96 520.54,271.00 520.62,271.10 520.67,271.16 520.70,271.19 520.78,271.28 520.86,271.37 520.92,271.43 520.94,271.46 521.00,271.52 521.02,271.54 521.10,271.61 521.17,271.68 521.18,271.69 521.26,271.75 521.34,271.82 521.42,271.88 521.50,271.93 521.58,271.98 521.66,272.03 521.67,272.04 521.74,272.07 521.82,272.11 521.90,272.15 521.92,272.16 521.98,272.18 522.00,272.19 522.06,272.21 522.14,272.24 522.17,272.25 522.22,272.26 522.30,272.29 522.42,272.32 522.50,272.33 522.67,272.37 522.92,272.40 523.00,272.41 523.17,272.43 523.42,272.45 523.50,272.46 523.67,272.47 523.92,272.48 524.00,272.49 524.17,272.50 524.42,272.51 524.50,272.51 524.67,272.52 524.92,272.53 525.00,272.53 525.17,272.53 525.42,272.54 525.50,272.54 525.67,272.55 525.92,272.55 526.00,272.55 526.17,272.56 526.42,272.56 526.50,272.56 526.67,272.56 526.92,272.57 527.00,272.57 527.17,272.57 527.42,272.57 527.50,272.57 527.67,272.58 527.92,272.58 528.00,272.58 528.17,272.58 528.42,272.58 528.50,272.58 528.67,272.58 528.92,272.58 529.00,272.58 529.17,272.58 529.42,272.59 529.50,272.59 529.67,272.59 529.92,272.59 530.00,272.59 530.17,272.59 530.42,272.59 530.50,272.59 530.67,272.59 530.92,272.59 531.00,272.59 531.17,272.59 531.42,272.59 531.50,272.59 531.67,272.59 531.92,272.59 532.00,272.59 532.17,272.59 532.42,272.59 532.50,272.59 532.67,272.59 532.92,272.59 533.00,272.59" fill="none" stroke="#ff0000" stroke-width="1.75" stroke-linejoin="round"/><path d="M39.00,405.23 39.50,405.24 40.00,405.24 40.50,405.25 41.00,405.25 41.50,405.25 42.00,405.25 42.50,405.25 43.00,405.25 43.50,405.25 44.00,405.25 44.50,405.24 45.00,405.24 45.50,405.23 46.00,405.23 46.50,405.22 47.00,405.22 47.20,405.21 47.45,405.21 47.50,405.21 47.70,405.21 47.95,405.21 48.00,405.21 48.20,405.20 48.45,405.20 48.50,405.20 48.70,405.20 48.95,405.20 49.00,405.20 49.20,405.20 49.45,405.19 49.50,405.19 49.70,405.19 49.95,405.19 50.00,405.19 50.20,405.19 50.45,405.19 50.50,405.19 50.70,405.19 50.95,405.19 51.00,405.19 51.20,405.18 51.45,405.18 51.50,405.18 51.70,405.18 51.95,405.18 52.00,405.18 52.20,405.18 52.45,405.18 52.50,405.18 52.70,405.18 52.95,405.18 53.00,405.18 53.20,405.18 53.45,405.18 53.50,405.19 53.70,405.19 53.95,405.19 54.00,405.19 54.20,405.19 54.45,405.19 54.50,405.19 54.70,405.19 54.95,405.19 55.00,405.19 55.20,405.19 55.45,405.19 55.50,405.19 55.70,405.19 55.95,405.19 56.00,405.19 56.20,405.19 56.45,405.19 56.50,405.19 56.70,405.20 56.95,405.20 57.00,405.20 57.20,405.20 57.45,405.20 57.50,405.20 57.70,405.20 57.95,405.20 58.00,405.20 58.20,405.20 58.45,405.20 58.50,405.20 58.70,405.20 58.95,405.20 59.00,405.20 59.20,405.20 59.45,405.20 59.50,405.20 59.70,405.20 59.95,405.20 60.00,405.20 60.20,405.20 60.45,405.20 60.50,405.20 60.70,405.20 60.95,405.19 61.00,405.19 61.20,405.19 61.45,405.19 61.50,405.19 61.70,405.19 61.95,405.19 62.00,405.19 62.20,405.19 62.45,405.19 62.50,405.19 62.70,405.18 62.95,405.18 63.00,405.18 63.20,405.18 63.45,405.18 63.50,405.18 63.70,405.18 63.95,405.18 64.00,405.18 64.20,405.17 64.45,405.17 64.50,405.17 64.70,405.17 64.78,405.17 64.86,405.17 64.94,405.17 64.95,405.17 65.00,405.17 65.02,405.17 65.10,405.17 65.18,405.16 65.20,405.16 65.26,405.16 65.34,405.16 65.42,405.16 65.45,405.16 65.50,405.16 65.58,405.16 65.66,405.16 65.70,405.16 65.74,405.16 65.82,405.16 65.90,405.16 65.95,405.15 65.98,405.15 66.00,405.15 66.06,405.15 66.14,405.15 66.20,405.15 66.22,405.15 66.30,405.15 66.38,405.15 66.45,405.14 66.46,405.14 66.50,405.14 66.54,405.14 66.62,405.14 66.70,405.14 66.78,405.13 66.86,405.13 66.94,405.13 66.95,405.12 67.00,405.12 67.02,405.12 67.10,405.12 67.18,405.11 67.20,405.11 67.26,405.10 67.34,405.10 67.42,405.09 67.45,405.08 67.50,405.08 67.58,405.07 67.66,405.05 67.70,405.05 67.74,405.04 67.82,405.03 67.90,405.01 67.95,405.00 67.98,404.99 68.00,404.99 68.06,404.97 68.14,404.95 68.20,404.93 68.22,404.93 68.30,404.90 68.38,404.87 68.45,404.84 68.46,404.84 68.50,404.82 68.54,404.81 68.62,404.77 68.70,404.73 68.78,404.69 68.86,404.65 68.94,404.60 68.95,404.59 69.00,404.56 69.02,404.55 69.10,404.50 69.18,404.45 69.20,404.44 69.26,404.40 69.34,404.34 69.42,404.29 69.45,404.26 69.50,404.23 69.58,404.17 69.66,404.11 69.70,404.09 69.74,404.06 69.82,404.00 69.90,403.95 69.95,403.92 69.98,403.90 70.00,403.89 70.06,403.85 70.14,403.81 70.20,403.77 70.22,403.77 70.30,403.73 70.38,403.70 70.45,403.68 70.46,403.68 70.50,403.67 70.54,403.66 70.62,403.65 70.70,403.65 70.78,403.65 70.86,403.67 70.94,403.69 70.95,403.69 71.00,403.71 71.02,403.71 71.10,403.74 71.18,403.78 71.20,403.79 71.26,403.83 71.34,403.87 71.42,403.92 71.45,403.94 71.50,403.98 71.58,404.03 71.66,404.09 71.70,404.12 71.74,404.15 71.82,404.21 71.90,404.27 71.95,404.31 71.98,404.33 72.00,404.35 72.06,404.39 72.14,404.45 72.20,404.49 72.22,404.51 72.30,404.56 72.38,404.61 72.45,404.66 72.46,404.66 72.50,404.69 72.54,404.71 72.62,404.76 72.70,404.80 72.78,404.84 72.86,404.88 72.94,404.92 72.95,404.92 73.00,404.95 73.02,404.95 73.10,404.98 73.18,405.01 73.20,405.02 73.26,405.04 73.34,405.07 73.42,405.09 73.45,405.10 73.50,405.11 73.58,405.13 73.66,405.14 73.70,405.15 73.74,405.16 73.82,405.17 73.90,405.19 73.95,405.19 73.98,405.20 74.00,405.20 74.06,405.21 74.14,405.22 74.20,405.23 74.22,405.23 74.30,405.24 74.38,405.24 74.45,405.25 74.46,405.25 74.50,405.25 74.54,405.26 74.62,405.26 74.70,405.27 74.78,405.27 74.86,405.28 74.94,405.28 74.95,405.28 75.00,405.28 75.02,405.29 75.10,405.29 75.18,405.29 75.20,405.29 75.26,405.30 75.34,405.30 75.42,405.30 75.45,405.30 75.50,405.30 75.58,405.31 75.66,405.31 75.70,405.31 75.74,405.31 75.82,405.32 75.90,405.32 75.95,405.32 75.98,405.32 76.00,405.32 76.06,405.32 76.14,405.32 76.20,405.33 76.22,405.33 76.30,405.33 76.38,405.33 76.45,405.33 76.46,405.33 76.50,405.33 76.54,405.33 76.62,405.34 76.70,405.34 76.95,405.34 77.00,405.34 77.20,405.35 77.45,405.35 77.50,405.35 77.70,405.35 77.95,405.36 78.00,405.36 78.20,405.36 78.45,405.36 78.50,405.36 78.70,405.36 78.95,405.36 79.00,405.36 79.20,405.36 79.45,405.36 79.50,405.36 79.70,405.36 79.95,405.36 80.00,405.36 80.20,405.36 80.45,405.36 80.50,405.35 80.70,405.35 80.95,405.35 81.00,405.35 81.20,405.35 81.45,405.34 81.50,405.34 81.70,405.34 81.95,405.33 82.00,405.33 82.20,405.33 82.45,405.32 82.50,405.32 82.70,405.32 82.95,405.31 83.00,405.31 83.20,405.31 83.45,405.30 83.50,405.30 83.70,405.29 83.95,405.29 84.00,405.29 84.20,405.28 84.45,405.27 84.50,405.27 84.70,405.27 84.95,405.26 85.00,405.26 85.20,405.25 85.45,405.25 85.50,405.24 85.70,405.24 85.95,405.23 86.00,405.23 86.20,405.22 86.45,405.22 86.50,405.22 86.70,405.21 86.95,405.20 87.00,405.20 87.20,405.20 87.45,405.19 87.50,405.19 87.70,405.18 87.95,405.18 88.00,405.17 88.20,405.17 88.45,405.16 88.50,405.16 88.70,405.16 88.95,405.15 89.00,405.15 89.20,405.15 89.45,405.14 89.50,405.14 89.70,405.14 89.95,405.13 90.00,405.13 90.20,405.13 90.45,405.12 90.50,405.12 90.70,405.12 90.95,405.11 91.00,405.11 91.20,405.11 91.45,405.11 91.50,405.11 91.70,405.10 91.95,405.10 92.00,405.10 92.20,405.10 92.45,405.10 92.50,405.10 92.70,405.09 92.95,405.09 93.00,405.09 93.20,405.09 93.45,405.09 93.50,405.09 93.70,405.09 93.95,405.09 94.00,405.09 94.20,405.09 94.50,405.08 95.00,405.08 95.50,405.08 96.00,405.08 96.50,405.08 97.00,405.08 97.50,405.08 98.00,405.08 98.50,405.08 99.00,405.08 99.50,405.08 100.00,405.07 100.50,405.07 101.00,405.07 101.50,405.07 102.00,405.07 102.50,405.07 103.00,405.06 103.50,405.06 104.00,405.06 104.50,405.06 105.00,405.06 105.50,405.06 106.00,405.06 106.50,405.06 107.00,405.06 107.50,405.06 108.00,405.07 108.50,405.07 109.00,405.07 109.50,405.08 110.00,405.08 110.50,405.09 111.00,405.10 111.50,405.10 112.00,405.11 112.50,405.12 113.00,405.12 113.50,405.13 114.00,405.14 114.50,405.14 115.00,405.14 115.50,405.15 116.00,405.15 116.50,405.15 117.00,405.15 117.50,405.14 118.00,405.14 118.50,405.13 119.00,405.12 119.50,405.10 120.00,405.09 120.50,405.07 121.00,405.05 121.50,405.02 122.00,404.99 122.50,404.95 123.00,404.91 123.50,404.85 124.00,404.79 124.09,404.78 124.34,404.74 124.50,404.72 124.59,404.70 124.84,404.65 125.00,404.62 125.09,404.60 125.34,404.54 125.50,404.50 125.59,404.47 125.84,404.40 126.00,404.34 126.09,404.31 126.34,404.20 126.50,404.12 126.59,404.07 126.84,403.92 127.00,403.81 127.09,403.74 127.34,403.51 127.50,403.33 127.59,403.22 127.84,402.84 128.00,402.55 128.09,402.35 128.34,401.68 128.50,401.11 128.59,400.73 128.82,399.47 128.84,399.33 128.90,398.90 128.98,398.23 129.00,398.05 129.06,397.45 129.09,397.12 129.14,396.51 129.22,395.34 129.30,393.87 129.34,392.98 129.38,391.95 129.46,389.37 129.50,387.76 129.54,385.87 129.59,383.05 129.62,381.09 129.70,374.64 129.78,366.13 129.84,358.20 129.86,355.25 129.94,341.88 130.00,330.34 130.02,326.25 130.09,311.31 130.10,309.14 130.18,292.26 130.26,278.23 130.34,269.86 130.42,268.31 130.50,272.24 130.58,279.05 130.59,280.00 130.66,286.83 130.74,295.14 130.82,304.63 130.84,307.27 130.90,315.86 130.98,328.41 131.00,331.62 131.06,341.12 131.09,345.69 131.14,352.90 131.22,363.13 131.30,371.61 131.34,375.22 131.38,378.41 131.46,383.72 131.50,385.88 131.54,387.76 131.59,389.77 131.62,390.81 131.70,393.10 131.78,394.83 131.84,395.87 131.86,396.17 132.00,397.88 132.09,398.70 132.34,400.34 132.50,401.08 132.59,401.42 132.84,402.17 133.00,402.54 133.09,402.72 133.34,403.13 133.50,403.34 133.59,403.44 133.84,403.69 134.00,403.82 134.09,403.88 134.34,404.05 134.50,404.13 134.59,404.18 134.84,404.29 135.00,404.35 135.09,404.39 135.34,404.47 135.50,404.51 135.59,404.54 135.84,404.60 136.00,404.63 136.09,404.65 136.34,404.70 136.50,404.73 136.59,404.74 137.00,404.80 137.50,404.86 138.00,404.91 138.50,404.96 139.00,404.99 139.50,405.02 140.00,405.05 140.50,405.07 141.00,405.09 141.50,405.11 142.00,405.12 142.50,405.14 143.00,405.15 143.50,405.16 144.00,405.17 144.50,405.17 145.00,405.18 145.50,405.18 146.00,405.19 146.50,405.19 147.00,405.20 147.50,405.20 148.00,405.20 148.50,405.21 149.00,405.21 149.50,405.21 150.00,405.21 150.50,405.21 151.00,405.21 151.50,405.21 152.00,405.20 152.50,405.19 153.00,405.18 153.50,405.17 154.00,405.15 154.14,405.15 154.39,405.13 154.50,405.13 154.64,405.12 154.89,405.10 155.00,405.10 155.14,405.08 155.39,405.06 155.50,405.05 155.64,405.04 155.89,405.01 156.00,405.00 156.14,404.98 156.39,404.94 156.50,404.92 156.64,404.90 156.89,404.84 157.00,404.82 157.14,404.78 157.39,404.71 157.50,404.67 157.64,404.62 157.89,404.51 158.00,404.45 158.14,404.37 158.39,404.20 158.50,404.11 158.64,403.98 158.89,403.69 159.00,403.53 159.14,403.29 159.38,402.77 159.39,402.74 159.46,402.55 159.50,402.43 159.54,402.30 159.62,402.01 159.64,401.93 159.70,401.67 159.78,401.28 159.86,400.81 159.89,400.60 159.94,400.23 160.00,399.70 160.02,399.50 160.10,398.56 160.14,397.99 160.18,397.34 160.26,395.73 160.34,393.61 160.39,391.97 160.42,390.85 160.50,387.32 160.58,382.91 160.64,378.99 160.66,377.57 160.74,371.35 160.82,364.41 160.89,358.06 160.90,357.16 160.98,350.30 161.00,348.76 161.06,344.78 161.14,341.51 161.22,340.82 161.30,342.29 161.38,345.01 161.39,345.40 161.46,348.19 161.50,349.80 161.54,351.41 161.62,354.74 161.64,355.62 161.70,358.47 161.78,362.85 161.86,367.82 161.89,369.76 161.94,373.02 162.00,376.83 162.02,378.06 162.10,382.65 162.14,384.73 162.18,386.65 162.26,390.02 162.34,392.79 162.39,394.23 162.42,395.01 162.50,396.75 162.58,398.12 162.64,398.93 162.66,399.17 162.74,399.99 162.82,400.64 162.89,401.09 162.90,401.15 163.00,401.66 163.14,402.21 163.39,402.89 163.50,403.12 163.64,403.36 163.89,403.70 164.00,403.81 164.14,403.94 164.39,404.13 164.50,404.20 164.64,404.27 164.89,404.39 165.00,404.43 165.14,404.48 165.39,404.55 165.50,404.58 165.64,404.61 165.89,404.66 166.00,404.68 166.14,404.70 166.39,404.74 166.50,404.75 166.64,404.77 166.89,404.79 167.00,404.80 167.14,404.81 167.39,404.83 167.50,404.84 167.64,404.85 167.89,404.86 168.00,404.87 168.14,404.87 168.50,404.89 169.00,404.91 169.50,404.92 170.00,404.94 170.50,404.95 171.00,404.96 171.50,404.98 172.00,404.99 172.50,405.00 173.00,405.01 173.50,405.02 174.00,405.03 174.50,405.05 175.00,405.06 175.50,405.07 176.00,405.08 176.50,405.09 177.00,405.10 177.50,405.11 178.00,405.12 178.50,405.12 179.00,405.13 179.50,405.14 180.00,405.14 180.50,405.14 181.00,405.15 181.50,405.15 182.00,405.15 182.50,405.15 183.00,405.15 183.50,405.15 184.00,405.15 184.50,405.15 185.00,405.15 185.50,405.15 186.00,405.15 186.50,405.15 187.00,405.15 187.50,405.15 188.00,405.15 188.50,405.15 189.00,405.15 189.50,405.15 190.00,405.15 190.50,405.15 191.00,405.15 191.50,405.15 192.00,405.16 192.50,405.16 193.00,405.16 193.50,405.16 194.00,405.16 194.50,405.16 195.00,405.16 195.50,405.16 196.00,405.16 196.50,405.16 197.00,405.16 197.50,405.16 198.00,405.15 198.50,405.15 199.00,405.14 199.50,405.14 200.00,405.13 200.50,405.13 201.00,405.12 201.50,405.11 202.00,405.10 202.50,405.10 203.00,405.09 203.50,405.08 204.00,405.08 204.50,405.07 205.00,405.07 205.50,405.06 206.00,405.06 206.50,405.06 207.00,405.06 207.50,405.06 208.00,405.06 208.50,405.07 209.00,405.07 209.50,405.08 210.00,405.09 210.50,405.10 211.00,405.11 211.50,405.13 212.00,405.14 212.50,405.15 213.00,405.17 213.50,405.18 214.00,405.20 214.50,405.21 215.00,405.23 215.50,405.24 216.00,405.26 216.50,405.27 217.00,405.29 217.50,405.30 218.00,405.31 218.50,405.32 219.00,405.33 219.50,405.33 220.00,405.34 220.50,405.34 221.00,405.35 221.50,405.35 222.00,405.35 222.50,405.35 223.00,405.35 223.50,405.35 224.00,405.35 224.50,405.34 225.00,405.34 225.50,405.33 226.00,405.33 226.50,405.33 227.00,405.32 227.50,405.32 228.00,405.31 228.50,405.31 229.00,405.31 229.50,405.30 230.00,405.30 230.50,405.30 231.00,405.29 231.50,405.29 232.00,405.29 232.50,405.28 233.00,405.28 233.50,405.28 234.00,405.28 234.50,405.27 235.00,405.27 235.50,405.26 236.00,405.26 236.50,405.25 237.00,405.25 237.50,405.24 238.00,405.23 238.50,405.23 239.00,405.22 239.50,405.21 240.00,405.20 240.50,405.19 241.00,405.18 241.50,405.17 242.00,405.16 242.50,405.15 243.00,405.14 243.50,405.13 244.00,405.12 244.50,405.11 245.00,405.10 245.50,405.10 246.00,405.09 246.50,405.09 247.00,405.08 247.50,405.08 248.00,405.08 248.50,405.08 249.00,405.08 249.50,405.08 250.00,405.09 250.50,405.09 251.00,405.09 251.50,405.10 252.00,405.10 252.50,405.11 253.00,405.11 253.45,405.11 253.50,405.11 253.70,405.11 253.95,405.11 254.00,405.11 254.20,405.11 254.45,405.11 254.50,405.11 254.70,405.11 254.95,405.10 255.00,405.10 255.20,405.10 255.45,405.10 255.50,405.09 255.70,405.09 255.95,405.08 256.00,405.08 256.20,405.07 256.45,405.06 256.50,405.06 256.70,405.05 256.95,405.03 257.00,405.03 257.20,405.01 257.45,404.99 257.50,404.99 257.70,404.96 257.95,404.93 258.00,404.92 258.20,404.89 258.45,404.84 258.50,404.83 258.70,404.78 258.95,404.71 259.00,404.69 259.20,404.62 259.45,404.50 259.50,404.47 259.70,404.34 259.79,404.27 259.87,404.20 259.95,404.12 260.00,404.07 260.03,404.04 260.11,403.95 260.19,403.84 260.20,403.82 260.27,403.72 260.35,403.57 260.43,403.41 260.45,403.36 260.50,403.24 260.51,403.21 260.59,402.97 260.67,402.68 260.70,402.55 260.75,402.31 260.83,401.85 260.91,401.27 260.95,400.93 260.99,400.55 261.00,400.45 261.07,399.66 261.15,398.56 261.20,397.77 261.23,397.25 261.31,395.69 261.39,393.90 261.45,392.42 261.47,391.90 261.50,391.10 261.55,389.72 261.63,387.47 261.70,385.54 261.71,385.27 261.79,383.33 261.87,381.87 261.95,381.06 262.00,380.92 262.03,380.97 262.11,381.52 262.19,382.50 262.20,382.64 262.27,383.68 262.35,384.86 262.43,385.90 262.45,386.14 262.50,386.67 262.51,386.76 262.59,387.44 262.67,388.02 262.70,388.23 262.75,388.59 262.83,389.29 262.91,390.20 262.95,390.74 262.99,391.33 263.00,391.48 263.07,392.63 263.15,394.01 263.20,394.88 263.23,395.39 263.31,396.70 263.39,397.90 263.45,398.71 263.47,398.97 263.50,399.33 263.55,399.90 263.63,400.69 263.70,401.28 263.71,401.35 263.79,401.90 263.87,402.35 263.95,402.72 264.00,402.91 264.03,403.02 264.11,403.26 264.20,403.47 264.45,403.89 264.50,403.95 264.70,404.16 264.95,404.34 265.00,404.37 265.20,404.47 265.45,404.57 265.50,404.59 265.70,404.65 265.95,404.72 266.00,404.73 266.20,404.76 266.45,404.80 266.50,404.81 266.70,404.84 266.95,404.86 267.00,404.87 267.20,404.89 267.45,404.91 267.50,404.91 267.70,404.92 267.95,404.93 268.00,404.94 268.20,404.95 268.45,404.96 268.50,404.96 268.70,404.96 268.95,404.97 269.00,404.97 269.20,404.98 269.45,404.98 269.50,404.99 269.70,404.99 269.95,404.99 270.00,404.99 270.20,405.00 270.45,405.00 270.50,405.00 271.00,405.01 271.50,405.02 272.00,405.02 272.50,405.03 273.00,405.03 273.50,405.04 274.00,405.04 274.50,405.04 275.00,405.05 275.50,405.05 276.00,405.05 276.50,405.06 277.00,405.06 277.50,405.06 278.00,405.06 278.50,405.06 279.00,405.07 279.50,405.07 280.00,405.07 280.50,405.07 281.00,405.07 281.50,405.07 282.00,405.07 282.50,405.07 283.00,405.07 283.50,405.08 284.00,405.08 284.50,405.08 285.00,405.09 285.50,405.09 286.00,405.10 286.50,405.11 287.00,405.11 287.50,405.12 288.00,405.13 288.50,405.14 289.00,405.16 289.50,405.17 290.00,405.18 290.50,405.20 291.00,405.21 291.50,405.23 292.00,405.24 292.50,405.26 293.00,405.27 293.50,405.29 294.00,405.30 294.50,405.31 295.00,405.32 295.50,405.33 296.00,405.34 296.50,405.35 297.00,405.36 297.50,405.36 298.00,405.36 298.50,405.37 299.00,405.37 299.50,405.36 299.75,405.36 300.00,405.36 300.25,405.36 300.50,405.36 300.75,405.35 301.00,405.35 301.25,405.35 301.50,405.34 301.75,405.34 302.00,405.33 302.25,405.33 302.50,405.32 302.75,405.32 303.00,405.32 303.25,405.31 303.50,405.30 303.75,405.30 304.00,405.29 304.25,405.29 304.50,405.28 304.75,405.28 305.00,405.27 305.25,405.27 305.50,405.26 305.75,405.26 306.00,405.25 306.25,405.25 306.50,405.24 306.75,405.24 307.00,405.23 307.25,405.23 307.50,405.22 307.75,405.22 308.00,405.22 308.25,405.21 308.50,405.21 308.75,405.21 309.00,405.20 309.25,405.20 309.50,405.20 309.75,405.20 310.00,405.19 310.25,405.19 310.50,405.19 310.75,405.19 311.00,405.19 311.25,405.19 311.50,405.18 311.75,405.18 312.00,405.18 312.25,405.18 312.50,405.18 312.75,405.18 313.00,405.18 313.25,405.18 313.50,405.18 313.75,405.18 314.00,405.18 314.25,405.18 314.50,405.18 314.75,405.18 315.00,405.18 315.25,405.18 315.50,405.18 315.75,405.18 316.00,405.18 316.25,405.18 316.50,405.17 316.75,405.17 317.00,405.17 317.25,405.17 317.50,405.17 317.75,405.17 318.00,405.16 318.25,405.16 318.50,405.16 318.75,405.16 319.00,405.15 319.25,405.15 319.50,405.14 319.75,405.14 320.00,405.13 320.25,405.13 320.50,405.12 320.75,405.11 321.00,405.10 321.25,405.10 321.50,405.09 321.75,405.07 322.00,405.06 322.25,405.05 322.50,405.03 322.75,405.01 323.00,404.99 323.25,404.96 323.50,404.93 323.75,404.89 324.00,404.84 324.25,404.77 324.50,404.70 324.75,404.59 325.00,404.45 325.25,404.25 325.30,404.20 325.48,403.98 325.50,403.95 325.55,403.87 325.56,403.86 325.64,403.72 325.72,403.55 325.75,403.48 325.80,403.35 325.88,403.10 325.96,402.78 326.00,402.58 326.04,402.36 326.05,402.30 326.12,401.79 326.20,401.01 326.25,400.38 326.28,399.94 326.30,399.62 326.36,398.50 326.44,396.59 326.50,394.82 326.52,394.17 326.55,393.12 326.60,391.22 326.68,387.82 326.75,384.66 326.76,384.21 326.80,382.45 326.84,380.82 326.92,378.31 327.00,377.38 327.05,377.75 327.08,378.30 327.16,380.70 327.24,383.84 327.25,384.25 327.30,386.28 327.32,387.06 327.40,389.91 327.48,392.14 327.50,392.59 327.55,393.50 327.56,393.64 327.64,394.38 327.72,394.42 327.75,394.26 327.80,393.84 327.88,392.82 327.96,391.60 328.00,391.01 328.04,390.52 328.05,390.41 328.12,389.99 328.20,390.30 328.25,390.93 328.28,391.45 328.30,391.84 328.36,393.15 328.44,395.04 328.50,396.43 328.52,396.88 328.55,397.52 328.75,400.84 328.80,401.42 329.00,402.92 329.05,403.15 329.16,403.54 329.24,403.74 329.25,403.76 329.30,403.86 329.32,403.90 329.40,404.03 329.48,404.14 329.50,404.16 329.55,404.22 329.56,404.23 329.64,404.31 329.72,404.38 329.75,404.41 329.80,404.44 329.88,404.50 329.96,404.55 330.00,404.57 330.04,404.59 330.05,404.60 330.12,404.63 330.20,404.67 330.25,404.69 330.28,404.70 330.30,404.71 330.36,404.73 330.44,404.76 330.50,404.78 330.52,404.78 330.55,404.79 330.60,404.81 330.68,404.83 330.75,404.84 330.76,404.85 330.80,404.86 330.84,404.86 330.92,404.88 331.00,404.90 331.05,404.91 331.08,404.91 331.16,404.92 331.24,404.94 331.25,404.94 331.30,404.95 331.32,404.95 331.40,404.96 331.48,404.97 331.50,404.97 331.55,404.98 331.56,404.98 331.64,404.99 331.72,405.00 331.75,405.00 331.80,405.01 331.88,405.01 331.96,405.02 332.00,405.02 332.04,405.03 332.05,405.03 332.12,405.03 332.20,405.04 332.25,405.04 332.28,405.04 332.30,405.05 332.36,405.05 332.44,405.05 332.50,405.06 332.52,405.06 332.55,405.06 332.60,405.06 332.68,405.07 332.75,405.07 332.76,405.07 332.80,405.07 332.84,405.07 332.92,405.07 333.00,405.08 333.05,405.08 333.08,405.08 333.16,405.08 333.24,405.08 333.25,405.08 333.30,405.08 333.32,405.08 333.40,405.09 333.48,405.09 333.50,405.09 333.55,405.09 333.56,405.09 333.64,405.09 333.72,405.09 333.75,405.09 333.80,405.09 333.88,405.08 333.96,405.08 334.00,405.08 334.04,405.08 334.05,405.08 334.12,405.08 334.20,405.08 334.25,405.07 334.28,405.07 334.30,405.07 334.36,405.07 334.44,405.07 334.50,405.06 334.52,405.06 334.55,405.06 334.60,405.06 334.68,405.05 334.75,405.05 334.76,405.05 334.80,405.04 334.84,405.04 334.92,405.03 335.00,405.03 335.05,405.02 335.08,405.02 335.16,405.01 335.24,405.00 335.25,405.00 335.30,405.00 335.32,405.00 335.40,404.99 335.48,404.98 335.50,404.97 335.55,404.97 335.56,404.97 335.64,404.95 335.72,404.94 335.75,404.94 335.80,404.93 335.88,404.92 335.96,404.90 336.00,404.90 336.04,404.89 336.05,404.89 336.12,404.88 336.20,404.86 336.25,404.85 336.28,404.85 336.30,404.84 336.36,404.83 336.44,404.82 336.50,404.80 336.52,404.80 336.55,404.79 336.60,404.78 336.68,404.77 336.75,404.75 336.76,404.75 336.80,404.74 336.84,404.73 336.92,404.71 337.00,404.70 337.05,404.69 337.08,404.68 337.16,404.66 337.24,404.64 337.25,404.64 337.30,404.63 337.32,404.63 337.40,404.61 337.48,404.59 337.50,404.59 337.55,404.57 337.56,404.57 337.64,404.55 337.72,404.54 337.75,404.53 337.80,404.52 337.88,404.51 337.96,404.49 338.00,404.48 338.04,404.48 338.05,404.47 338.12,404.46 338.20,404.45 338.25,404.44 338.28,404.44 338.30,404.43 338.36,404.42 338.44,404.41 338.50,404.41 338.52,404.40 338.55,404.40 338.60,404.40 338.68,404.39 338.75,404.38 338.76,404.38 338.80,404.38 338.84,404.38 338.92,404.38 339.00,404.37 339.05,404.37 339.08,404.37 339.16,404.37 339.24,404.37 339.25,404.37 339.30,404.38 339.32,404.38 339.40,404.38 339.48,404.39 339.50,404.39 339.55,404.39 339.56,404.39 339.64,404.40 339.72,404.41 339.75,404.41 339.80,404.42 339.88,404.43 339.96,404.44 340.00,404.44 340.04,404.45 340.05,404.45 340.12,404.46 340.20,404.47 340.25,404.48 340.28,404.49 340.30,404.49 340.36,404.50 340.44,404.52 340.50,404.53 340.52,404.53 340.55,404.54 340.60,404.54 340.68,404.56 340.70,404.56 340.75,404.57 340.76,404.57 340.80,404.58 340.84,404.59 340.92,404.60 340.95,404.61 341.00,404.62 341.05,404.63 341.08,404.63 341.16,404.65 341.20,404.66 341.24,404.66 341.25,404.66 341.30,404.67 341.32,404.68 341.40,404.69 341.45,404.70 341.48,404.70 341.50,404.71 341.55,404.72 341.56,404.72 341.64,404.73 341.70,404.74 341.72,404.74 341.75,404.75 341.80,404.76 341.88,404.77 341.95,404.78 341.96,404.78 342.00,404.78 342.04,404.79 342.05,404.79 342.12,404.80 342.20,404.81 342.25,404.82 342.28,404.82 342.30,404.82 342.36,404.83 342.44,404.84 342.45,404.84 342.50,404.84 342.52,404.84 342.55,404.85 342.60,404.85 342.68,404.86 342.70,404.86 342.75,404.86 342.76,404.86 342.80,404.87 342.84,404.87 342.88,404.87 342.92,404.88 342.95,404.88 342.96,404.88 343.00,404.88 343.04,404.88 343.05,404.88 343.08,404.88 343.12,404.89 343.16,404.89 343.20,404.89 343.24,404.89 343.25,404.89 343.28,404.89 343.30,404.89 343.32,404.89 343.36,404.90 343.40,404.90 343.44,404.90 343.45,404.90 343.48,404.90 343.50,404.90 343.52,404.90 343.55,404.90 343.56,404.90 343.60,404.90 343.64,404.90 343.68,404.90 343.70,404.90 343.72,404.90 343.75,404.90 343.76,404.90 343.80,404.90 343.84,404.90 343.88,404.90 343.92,404.90 343.95,404.90 343.96,404.90 344.00,404.90 344.04,404.90 344.05,404.90 344.08,404.90 344.12,404.90 344.16,404.90 344.20,404.90 344.24,404.90 344.25,404.89 344.28,404.89 344.30,404.89 344.32,404.89 344.36,404.89 344.40,404.89 344.44,404.89 344.45,404.89 344.48,404.89 344.50,404.88 344.52,404.88 344.55,404.88 344.56,404.88 344.60,404.88 344.64,404.88 344.68,404.87 344.70,404.87 344.72,404.87 344.75,404.87 344.76,404.87 344.80,404.86 344.84,404.86 344.88,404.86 344.92,404.85 344.95,404.85 344.96,404.85 345.00,404.85 345.04,404.84 345.05,404.84 345.08,404.84 345.12,404.83 345.16,404.83 345.20,404.82 345.24,404.82 345.25,404.81 345.28,404.81 345.30,404.81 345.32,404.80 345.36,404.80 345.40,404.79 345.44,404.78 345.45,404.78 345.48,404.77 345.50,404.77 345.52,404.77 345.55,404.76 345.56,404.76 345.60,404.75 345.64,404.74 345.68,404.73 345.70,404.73 345.72,404.72 345.75,404.71 345.76,404.71 345.80,404.70 345.84,404.69 345.88,404.67 345.92,404.66 345.95,404.65 345.96,404.65 346.00,404.63 346.04,404.62 346.05,404.61 346.08,404.60 346.12,404.58 346.16,404.57 346.20,404.55 346.24,404.53 346.25,404.53 346.28,404.51 346.30,404.50 346.32,404.49 346.36,404.47 346.40,404.45 346.44,404.42 346.45,404.42 346.48,404.40 346.50,404.39 346.52,404.38 346.55,404.36 346.56,404.35 346.60,404.32 346.64,404.30 346.68,404.27 346.70,404.25 346.72,404.24 346.75,404.21 346.76,404.21 346.80,404.18 346.84,404.14 346.88,404.11 346.92,404.07 346.95,404.05 346.96,404.04 347.00,404.00 347.04,403.96 347.05,403.95 347.08,403.92 347.12,403.88 347.16,403.84 347.20,403.80 347.24,403.76 347.25,403.75 347.28,403.72 347.30,403.69 347.32,403.67 347.36,403.63 347.40,403.58 347.44,403.53 347.45,403.52 347.48,403.48 347.50,403.46 347.52,403.43 347.55,403.40 347.56,403.38 347.60,403.33 347.64,403.28 347.68,403.23 347.70,403.20 347.72,403.17 347.75,403.13 347.76,403.12 347.80,403.06 347.84,403.00 347.88,402.94 347.92,402.88 347.95,402.83 347.96,402.81 348.00,402.75 348.04,402.68 348.05,402.66 348.08,402.60 348.12,402.53 348.16,402.45 348.20,402.36 348.24,402.27 348.25,402.25 348.28,402.18 348.30,402.13 348.32,402.08 348.36,401.98 348.40,401.87 348.44,401.75 348.45,401.72 348.48,401.62 348.50,401.56 348.52,401.49 348.55,401.39 348.56,401.36 348.60,401.22 348.64,401.07 348.68,400.92 348.70,400.84 348.72,400.77 348.75,400.65 348.76,400.61 348.80,400.45 348.84,400.30 348.88,400.15 348.95,399.91 348.96,399.88 349.00,399.76 349.04,399.66 349.05,399.64 349.12,399.54 349.20,399.53 349.25,399.58 349.28,399.64 349.30,399.69 349.36,399.87 349.44,400.18 349.45,400.22 349.50,400.45 349.52,400.55 349.55,400.69 349.60,400.93 349.68,401.32 349.70,401.42 349.75,401.65 349.76,401.70 349.80,401.87 349.84,402.04 349.92,402.36 349.95,402.47 350.00,402.64 350.05,402.79 350.08,402.88 350.16,403.10 350.20,403.19 350.24,403.28 350.25,403.30 350.30,403.40 350.32,403.44 350.40,403.58 350.45,403.66 350.48,403.71 350.50,403.73 350.55,403.80 350.56,403.81 350.64,403.91 350.70,403.98 350.72,404.00 350.75,404.03 350.80,404.08 350.88,404.15 350.95,404.21 350.96,404.22 351.00,404.25 351.04,404.28 351.05,404.29 351.12,404.34 351.20,404.39 351.25,404.42 351.28,404.44 351.30,404.45 351.36,404.49 351.44,404.53 351.45,404.53 351.50,404.55 351.52,404.56 351.55,404.58 351.60,404.60 351.68,404.63 351.70,404.63 351.75,404.65 351.76,404.66 351.80,404.67 351.84,404.68 351.92,404.71 351.95,404.71 352.00,404.73 352.05,404.74 352.08,404.75 352.16,404.76 352.20,404.77 352.24,404.78 352.25,404.78 352.30,404.79 352.32,404.80 352.40,404.81 352.45,404.82 352.48,404.82 352.50,404.82 352.55,404.83 352.56,404.83 352.64,404.84 352.70,404.85 352.72,404.85 352.75,404.86 352.80,404.86 352.88,404.87 352.95,404.88 352.96,404.88 353.00,404.88 353.04,404.89 353.05,404.89 353.12,404.89 353.20,404.90 353.25,404.90 353.28,404.91 353.30,404.91 353.36,404.91 353.44,404.92 353.45,404.92 353.50,404.92 353.52,404.92 353.55,404.92 353.60,404.93 353.68,404.93 353.70,404.93 353.75,404.94 353.76,404.94 353.80,404.94 353.84,404.94 353.92,404.95 353.95,404.95 354.00,404.95 354.05,404.95 354.08,404.95 354.16,404.96 354.20,404.96 354.24,404.96 354.25,404.96 354.30,404.97 354.32,404.97 354.40,404.97 354.45,404.97 354.48,404.97 354.50,404.97 354.55,404.98 354.56,404.98 354.64,404.98 354.70,404.98 354.72,404.98 354.75,404.99 354.80,404.99 354.95,404.99 355.00,405.00 355.05,405.00 355.20,405.00 355.25,405.01 355.30,405.01 355.45,405.01 355.50,405.01 355.55,405.02 355.70,405.02 355.75,405.02 355.80,405.02 355.95,405.03 356.00,405.03 356.05,405.03 356.20,405.04 356.25,405.04 356.30,405.04 356.45,405.04 356.50,405.05 356.55,405.05 356.70,405.05 356.75,405.05 356.80,405.05 356.95,405.06 357.00,405.06 357.05,405.06 357.20,405.07 357.25,405.07 357.30,405.07 357.45,405.07 357.50,405.07 357.55,405.07 357.70,405.08 357.75,405.08 357.80,405.08 358.00,405.08 358.05,405.09 358.25,405.09 358.30,405.09 358.50,405.09 358.55,405.10 358.75,405.10 358.80,405.10 359.00,405.10 359.05,405.11 359.25,405.11 359.30,405.11 359.50,405.11 359.55,405.11 359.75,405.12 359.80,405.12 360.00,405.12 360.05,405.12 360.25,405.13 360.30,405.13 360.50,405.13 360.55,405.13 360.75,405.13 360.80,405.13 361.00,405.14 361.05,405.14 361.25,405.14 361.30,405.14 361.50,405.14 361.55,405.14 361.75,405.15 361.80,405.15 362.00,405.15 362.05,405.15 362.25,405.15 362.30,405.15 362.50,405.16 362.55,405.16 362.75,405.16 362.80,405.16 363.00,405.16 363.05,405.16 363.25,405.16 363.30,405.16 363.50,405.17 363.55,405.17 363.75,405.17 363.80,405.17 364.00,405.17 364.05,405.17 364.25,405.18 364.30,405.18 364.50,405.18 364.55,405.18 364.75,405.18 364.80,405.18 365.00,405.18 365.05,405.18 365.25,405.19 365.30,405.19 365.50,405.19 365.55,405.19 365.75,405.19 365.80,405.19 366.00,405.20 366.05,405.20 366.25,405.20 366.30,405.20 366.50,405.20 366.55,405.20 366.75,405.21 366.80,405.21 367.00,405.21 367.05,405.21 367.25,405.21 367.30,405.22 367.50,405.22 367.55,405.22 367.75,405.22 367.80,405.22 368.00,405.23 368.05,405.23 368.25,405.23 368.30,405.23 368.50,405.23 368.55,405.23 368.75,405.24 368.80,405.24 369.00,405.24 369.05,405.24 369.25,405.25 369.30,405.25 369.50,405.25 369.55,405.25 369.75,405.25 369.80,405.26 370.00,405.26 370.05,405.26 370.25,405.26 370.30,405.26 370.50,405.27 370.55,405.27 370.75,405.27 370.80,405.27 371.00,405.28 371.05,405.28 371.25,405.28 371.30,405.28 371.50,405.28 371.55,405.28 371.75,405.29 371.80,405.29 372.00,405.29 372.05,405.29 372.25,405.29 372.30,405.30 372.50,405.30 372.75,405.30 373.00,405.30 373.25,405.31 373.50,405.31 373.75,405.31 374.00,405.31 374.25,405.32 374.50,405.32 374.75,405.32 375.00,405.32 375.25,405.32 375.50,405.32 375.75,405.32 376.00,405.32 376.25,405.32 376.50,405.32 376.75,405.32 377.00,405.32 377.25,405.32 377.50,405.32 377.75,405.31 378.00,405.31 378.25,405.31 378.50,405.31 379.00,405.30 379.50,405.29 380.00,405.28 380.50,405.27 381.00,405.26 381.50,405.25 382.00,405.24 382.50,405.23 383.00,405.22 383.50,405.21 384.00,405.20 384.50,405.19 385.00,405.18 385.50,405.18 386.00,405.17 386.50,405.17 387.00,405.16 387.50,405.16 388.00,405.16 388.50,405.16 389.00,405.16 389.50,405.17 390.00,405.17 390.50,405.18 391.00,405.18 391.50,405.19 392.00,405.20 392.50,405.21 393.00,405.22 393.50,405.22 394.00,405.23 394.50,405.24 395.00,405.25 395.50,405.26 396.00,405.27 396.50,405.27 397.00,405.28 397.50,405.29 398.00,405.29 398.50,405.29 399.00,405.30 399.50,405.30 400.00,405.30 400.50,405.30 401.00,405.30 401.50,405.29 402.00,405.29 402.50,405.29 403.00,405.29 403.50,405.28 404.00,405.28 404.50,405.27 405.00,405.27 405.50,405.26 406.00,405.26 406.50,405.26 407.00,405.25 407.50,405.25 408.00,405.25 408.50,405.24 409.00,405.24 409.50,405.24 410.00,405.23 410.50,405.23 411.00,405.23 411.50,405.23 412.00,405.22 412.50,405.22 413.00,405.21 413.50,405.21 414.00,405.21 414.50,405.20 415.00,405.19 415.14,405.19 415.39,405.19 415.50,405.19 415.64,405.18 415.89,405.18 416.00,405.18 416.14,405.18 416.39,405.17 416.50,405.17 416.64,405.17 416.89,405.16 417.00,405.16 417.14,405.16 417.39,405.15 417.50,405.15 417.64,405.15 417.89,405.14 418.00,405.14 418.14,405.14 418.39,405.13 418.50,405.13 418.64,405.13 418.89,405.12 419.00,405.12 419.14,405.11 419.39,405.11 419.50,405.10 419.64,405.10 419.89,405.09 420.00,405.09 420.14,405.09 420.39,405.08 420.50,405.08 420.64,405.08 420.89,405.07 421.00,405.07 421.14,405.06 421.39,405.06 421.50,405.05 421.64,405.05 421.89,405.04 422.00,405.04 422.14,405.04 422.39,405.03 422.50,405.03 422.64,405.03 422.89,405.02 423.00,405.02 423.14,405.01 423.39,405.01 423.50,405.01 423.64,405.00 423.89,405.00 424.00,405.00 424.14,404.99 424.39,404.99 424.50,404.99 424.64,404.98 424.89,404.98 425.00,404.98 425.14,404.97 425.39,404.97 425.50,404.97 425.64,404.97 425.89,404.96 426.00,404.96 426.14,404.96 426.39,404.95 426.50,404.95 426.64,404.95 426.89,404.94 426.97,404.94 427.00,404.94 427.05,404.94 427.13,404.94 427.14,404.94 427.21,404.94 427.29,404.94 427.37,404.93 427.39,404.93 427.45,404.93 427.50,404.93 427.53,404.93 427.61,404.93 427.64,404.92 427.69,404.92 427.77,404.92 427.85,404.92 427.89,404.91 427.93,404.91 428.00,404.91 428.01,404.91 428.09,404.90 428.14,404.90 428.17,404.90 428.25,404.89 428.33,404.88 428.39,404.87 428.41,404.87 428.49,404.86 428.50,404.86 428.57,404.84 428.64,404.83 428.65,404.83 428.73,404.81 428.81,404.78 428.89,404.75 428.97,404.72 429.00,404.71 429.05,404.68 429.13,404.64 429.14,404.63 429.21,404.58 429.29,404.52 429.37,404.46 429.39,404.44 429.45,404.38 429.50,404.33 429.53,404.30 429.61,404.20 429.64,404.17 429.69,404.10 429.77,403.99 429.85,403.88 429.89,403.82 429.93,403.75 430.00,403.64 430.01,403.62 430.09,403.49 430.14,403.41 430.17,403.36 430.25,403.22 430.33,403.09 430.39,402.99 430.41,402.96 430.49,402.84 430.50,402.83 430.57,402.74 430.64,402.65 430.65,402.64 430.73,402.57 430.81,402.51 430.89,402.47 430.97,402.46 431.00,402.46 431.05,402.46 431.13,402.48 431.14,402.49 431.21,402.52 431.29,402.57 431.37,402.63 431.39,402.65 431.45,402.70 431.50,402.74 431.53,402.76 431.61,402.83 431.64,402.86 431.69,402.90 431.77,402.97 431.85,403.03 431.89,403.06 431.93,403.09 432.00,403.14 432.01,403.15 432.09,403.20 432.14,403.23 432.17,403.25 432.25,403.30 432.33,403.34 432.39,403.38 432.41,403.39 432.49,403.44 432.50,403.45 432.57,403.50 432.64,403.55 432.65,403.56 432.73,403.63 432.81,403.70 432.89,403.77 432.97,403.85 433.00,403.88 433.05,403.93 433.13,404.02 433.14,404.03 433.21,404.10 433.29,404.18 433.37,404.26 433.39,404.28 433.45,404.34 433.50,404.38 433.53,404.41 433.61,404.48 433.64,404.51 433.69,404.55 433.77,404.61 433.85,404.67 433.89,404.69 433.93,404.72 434.00,404.76 434.01,404.77 434.09,404.81 434.14,404.83 434.17,404.85 434.25,404.88 434.33,404.91 434.39,404.93 434.41,404.94 434.49,404.96 434.50,404.97 434.57,404.99 434.64,405.00 434.65,405.00 434.73,405.02 434.81,405.03 434.89,405.05 435.00,405.06 435.14,405.08 435.39,405.10 435.50,405.10 435.64,405.11 435.89,405.13 436.00,405.13 436.14,405.14 436.39,405.15 436.50,405.15 436.64,405.16 436.89,405.17 437.00,405.17 437.14,405.17 437.39,405.18 437.50,405.18 437.64,405.19 437.89,405.19 438.00,405.20 438.14,405.20 438.39,405.20 438.50,405.21 438.64,405.21 438.89,405.21 439.00,405.21 439.14,405.22 439.39,405.22 439.50,405.22 439.64,405.22 439.89,405.22 440.00,405.22 440.14,405.23 440.39,405.23 440.50,405.23 440.64,405.23 440.89,405.23 441.00,405.23 441.14,405.23 441.39,405.23 441.50,405.23 441.64,405.23 441.89,405.23 442.00,405.23 442.14,405.23 442.39,405.23 442.50,405.23 442.64,405.23 442.89,405.23 443.00,405.23 443.14,405.23 443.39,405.23 443.50,405.23 443.64,405.23 443.89,405.23 444.00,405.23 444.14,405.23 444.39,405.23 444.50,405.23 444.64,405.23 444.89,405.23 445.00,405.22 445.14,405.22 445.39,405.22 445.50,405.22 445.64,405.22 445.89,405.22 446.00,405.22 446.14,405.22 446.39,405.22 446.50,405.22 446.64,405.22 447.00,405.22 447.50,405.22 448.00,405.22 448.50,405.22 449.00,405.22 449.50,405.22 450.00,405.22 450.50,405.22 451.00,405.22 451.50,405.23 452.00,405.23 452.50,405.23 453.00,405.23 453.50,405.23 454.00,405.23 454.50,405.23 455.00,405.23 455.50,405.23 456.00,405.23 456.50,405.23 457.00,405.22 457.50,405.22 458.00,405.22 458.50,405.21 459.00,405.21 459.50,405.20 460.00,405.20 460.50,405.19 461.00,405.19 461.50,405.18 462.00,405.18 462.50,405.18 463.00,405.17 463.50,405.17 464.00,405.17 464.50,405.17 465.00,405.17 465.50,405.17 466.00,405.18 466.50,405.18 467.00,405.19 467.50,405.19 468.00,405.20 468.50,405.21 469.00,405.22 469.50,405.23 470.00,405.24 470.50,405.25 471.00,405.26 471.50,405.27 472.00,405.29 472.50,405.30 473.00,405.31 473.50,405.32 474.00,405.33 474.50,405.33 475.00,405.34 475.50,405.35 476.00,405.35 476.50,405.35 477.00,405.35 477.50,405.35 477.58,405.35 477.83,405.35 478.00,405.35 478.08,405.35 478.33,405.35 478.50,405.35 478.58,405.35 478.83,405.34 479.00,405.34 479.08,405.34 479.33,405.34 479.50,405.34 479.58,405.33 479.83,405.33 480.00,405.33 480.08,405.33 480.33,405.32 480.50,405.32 480.58,405.32 480.83,405.31 481.00,405.31 481.08,405.30 481.33,405.30 481.50,405.29 481.58,405.29 481.83,405.29 482.00,405.28 482.08,405.28 482.33,405.27 482.50,405.27 482.58,405.27 482.83,405.26 483.00,405.25 483.08,405.25 483.33,405.24 483.50,405.24 483.58,405.24 483.83,405.23 484.00,405.22 484.08,405.22 484.33,405.21 484.50,405.21 484.58,405.21 484.83,405.20 485.00,405.19 485.08,405.19 485.33,405.18 485.50,405.18 485.58,405.18 485.83,405.17 486.00,405.16 486.08,405.16 486.33,405.15 486.50,405.15 486.58,405.14 486.83,405.13 487.00,405.13 487.08,405.13 487.33,405.12 487.50,405.11 487.58,405.11 487.83,405.10 488.00,405.09 488.08,405.09 488.33,405.08 488.50,405.07 488.58,405.07 488.83,405.06 489.00,405.05 489.08,405.05 489.33,405.04 489.50,405.03 489.58,405.03 489.83,405.01 490.00,405.00 490.08,405.00 490.33,404.98 490.50,404.97 490.58,404.97 490.83,404.95 490.93,404.94 491.00,404.93 491.01,404.93 491.08,404.92 491.09,404.92 491.17,404.92 491.25,404.91 491.33,404.90 491.41,404.89 491.49,404.88 491.50,404.88 491.57,404.87 491.58,404.87 491.65,404.86 491.73,404.85 491.81,404.84 491.83,404.83 491.89,404.82 491.97,404.81 492.00,404.80 492.05,404.79 492.08,404.79 492.13,404.78 492.21,404.76 492.29,404.74 492.33,404.73 492.37,404.72 492.45,404.69 492.50,404.68 492.53,404.67 492.58,404.65 492.61,404.64 492.69,404.60 492.77,404.57 492.83,404.54 492.85,404.52 492.93,404.48 493.00,404.43 493.01,404.42 493.08,404.37 493.09,404.36 493.17,404.30 493.25,404.22 493.33,404.13 493.41,404.04 493.49,403.93 493.50,403.92 493.57,403.81 493.58,403.80 493.65,403.68 493.73,403.54 493.81,403.38 493.83,403.34 493.89,403.21 493.97,403.02 494.00,402.95 494.05,402.82 494.08,402.75 494.13,402.61 494.21,402.39 494.29,402.15 494.33,402.03 494.37,401.91 494.45,401.66 494.50,401.50 494.53,401.40 494.58,401.24 494.61,401.14 494.69,400.88 494.77,400.63 494.83,400.45 494.85,400.39 494.93,400.17 495.00,400.00 495.01,399.97 495.08,399.82 495.09,399.80 495.17,399.67 495.25,399.57 495.33,399.51 495.41,399.49 495.49,399.52 495.50,399.52 495.57,399.57 495.58,399.58 495.65,399.67 495.73,399.78 495.81,399.92 495.83,399.95 495.89,400.07 495.97,400.22 496.00,400.28 496.05,400.38 496.08,400.44 496.13,400.53 496.21,400.68 496.29,400.82 496.33,400.88 496.37,400.94 496.45,401.05 496.50,401.11 496.53,401.15 496.58,401.20 496.61,401.23 496.69,401.30 496.77,401.35 496.83,401.39 496.85,401.40 496.93,401.43 497.00,401.46 497.01,401.47 497.08,401.49 497.09,401.50 497.17,401.53 497.25,401.57 497.33,401.61 497.41,401.67 497.49,401.74 497.50,401.75 497.57,401.82 497.58,401.84 497.65,401.92 497.73,402.04 497.81,402.16 497.83,402.19 497.89,402.29 497.97,402.43 498.00,402.49 498.05,402.58 498.08,402.63 498.13,402.72 498.21,402.87 498.29,403.01 498.33,403.08 498.37,403.15 498.45,403.29 498.50,403.37 498.53,403.42 498.58,403.50 498.61,403.55 498.69,403.66 498.77,403.78 498.83,403.85 498.85,403.88 498.93,403.97 499.00,404.05 499.01,404.06 499.08,404.13 499.09,404.14 499.17,404.22 499.25,404.29 499.33,404.35 499.41,404.40 499.49,404.45 499.50,404.46 499.57,404.50 499.58,404.50 499.65,404.54 499.73,404.57 499.83,404.61 500.00,404.66 500.08,404.68 500.33,404.74 500.50,404.76 500.58,404.78 500.83,404.80 501.00,404.82 501.08,404.83 501.33,404.85 501.50,404.86 501.58,404.86 501.83,404.87 502.00,404.88 502.08,404.89 502.33,404.89 502.50,404.90 502.58,404.90 502.83,404.91 503.00,404.91 503.08,404.92 503.33,404.92 503.50,404.93 503.58,404.93 503.83,404.93 504.00,404.94 504.08,404.94 504.33,404.94 504.50,404.94 504.58,404.95 504.83,404.95 505.00,404.95 505.08,404.95 505.33,404.96 505.50,404.96 505.58,404.96 505.83,404.96 506.00,404.97 506.08,404.97 506.33,404.97 506.50,404.97 506.58,404.97 506.83,404.98 507.00,404.98 507.08,404.98 507.33,404.98 507.50,404.99 507.58,404.99 507.83,404.99 508.00,404.99 508.08,404.99 508.33,404.99 508.50,405.00 508.58,405.00 508.83,405.00 509.00,405.00 509.08,405.00 509.33,405.00 509.50,405.01 509.58,405.01 509.83,405.01 510.00,405.01 510.08,405.01 510.33,405.01 510.47,405.01 510.50,405.01 510.55,405.01 510.58,405.01 510.63,405.01 510.71,405.01 510.79,405.01 510.83,405.01 510.87,405.01 510.95,405.00 511.00,405.00 511.03,405.00 511.08,405.00 511.11,405.00 511.19,405.00 511.27,405.00 511.33,405.00 511.35,405.00 511.43,405.00 511.50,405.00 511.51,405.00 511.58,404.99 511.59,404.99 511.67,404.99 511.75,404.99 511.83,404.99 511.91,404.99 511.99,404.98 512.00,404.98 512.07,404.98 512.08,404.98 512.15,404.98 512.23,404.97 512.31,404.97 512.33,404.97 512.39,404.96 512.47,404.96 512.50,404.95 512.55,404.95 512.58,404.95 512.63,404.94 512.71,404.94 512.79,404.93 512.83,404.92 512.87,404.92 512.95,404.91 513.00,404.90 513.03,404.90 513.08,404.89 513.11,404.89 513.19,404.87 513.27,404.86 513.33,404.85 513.35,404.84 513.43,404.83 513.50,404.81 513.51,404.81 513.58,404.79 513.59,404.78 513.67,404.76 513.75,404.73 513.83,404.70 513.91,404.67 513.99,404.64 514.00,404.63 514.07,404.60 514.08,404.60 514.15,404.56 514.23,404.51 514.31,404.46 514.33,404.45 514.39,404.41 514.47,404.35 514.50,404.33 514.55,404.29 514.58,404.26 514.63,404.22 514.71,404.15 514.79,404.07 514.83,404.03 514.87,403.99 514.95,403.90 515.00,403.84 515.03,403.80 515.08,403.74 515.11,403.70 515.19,403.59 515.27,403.48 515.33,403.39 515.35,403.36 515.43,403.23 515.50,403.12 515.51,403.10 515.58,402.98 515.59,402.96 515.67,402.82 515.75,402.67 515.83,402.52 515.91,402.36 515.99,402.19 516.00,402.17 516.07,402.02 516.08,402.00 516.15,401.85 516.23,401.68 516.31,401.50 516.33,401.45 516.39,401.32 516.47,401.14 516.50,401.07 516.55,400.95 516.58,400.89 516.63,400.77 516.71,400.59 516.79,400.42 516.83,400.33 516.87,400.25 516.95,400.08 517.00,399.98 517.03,399.92 517.08,399.82 517.11,399.76 517.19,399.62 517.27,399.48 517.33,399.38 517.35,399.35 517.43,399.24 517.50,399.15 517.51,399.14 517.58,399.06 517.59,399.05 517.67,398.98 517.75,398.92 517.83,398.88 517.91,398.86 517.99,398.85 518.00,398.85 518.07,398.85 518.08,398.85 518.15,398.87 518.23,398.91 518.31,398.95 518.33,398.97 518.39,399.01 518.47,399.08 518.50,399.11 518.55,399.17 518.58,399.20 518.63,399.26 518.71,399.36 518.79,399.47 518.83,399.52 518.87,399.58 518.95,399.70 519.00,399.78 519.03,399.82 519.08,399.90 519.11,399.95 519.19,400.08 519.27,400.21 519.33,400.31 519.35,400.35 519.43,400.48 519.50,400.60 519.51,400.62 519.58,400.74 519.59,400.76 519.67,400.89 519.75,401.03 519.83,401.16 519.91,401.30 519.99,401.43 520.00,401.45 520.07,401.57 520.08,401.58 520.15,401.70 520.23,401.83 520.31,401.96 520.33,401.99 520.39,402.09 520.47,402.21 520.50,402.26 520.55,402.33 520.58,402.38 520.63,402.46 520.71,402.57 520.79,402.69 520.83,402.75 520.87,402.80 520.95,402.91 521.00,402.98 521.03,403.02 521.08,403.09 521.11,403.13 521.19,403.23 521.27,403.32 521.33,403.39 521.35,403.42 521.43,403.51 521.50,403.59 521.51,403.60 521.58,403.67 521.59,403.68 521.67,403.76 521.75,403.84 521.83,403.91 521.91,403.98 521.99,404.05 522.00,404.05 522.07,404.11 522.08,404.12 522.15,404.17 522.23,404.23 522.31,404.28 522.33,404.29 522.39,404.33 522.47,404.38 522.50,404.40 522.55,404.43 522.58,404.44 522.63,404.47 522.71,404.51 522.79,404.55 522.83,404.56 522.87,404.58 522.95,404.62 523.00,404.63 523.03,404.65 523.08,404.66 523.11,404.68 523.19,404.70 523.27,404.73 523.33,404.74 523.35,404.75 523.43,404.77 523.50,404.79 523.51,404.79 523.58,404.81 523.59,404.81 523.67,404.83 523.75,404.84 523.83,404.86 523.91,404.87 523.99,404.88 524.00,404.89 524.07,404.89 524.08,404.90 524.15,404.91 524.23,404.92 524.31,404.92 524.33,404.93 524.39,404.93 524.47,404.94 524.50,404.94 524.55,404.95 524.58,404.95 524.63,404.95 524.71,404.96 524.79,404.96 524.83,404.97 524.87,404.97 524.95,404.97 525.00,404.98 525.03,404.98 525.08,404.98 525.11,404.98 525.19,404.99 525.33,404.99 525.50,405.00 525.58,405.00 525.83,405.01 526.00,405.01 526.08,405.02 526.33,405.02 526.50,405.02 526.58,405.03 526.83,405.03 527.00,405.03 527.08,405.04 527.33,405.04 527.50,405.04 527.58,405.04 527.83,405.05 528.00,405.05 528.08,405.05 528.33,405.05 528.50,405.06 528.58,405.06 528.83,405.06 529.00,405.06 529.08,405.07 529.33,405.07 529.50,405.07 529.58,405.07 529.83,405.08 530.00,405.08 530.08,405.08 530.33,405.09 530.50,405.09 530.58,405.09 530.83,405.09 531.00,405.10 531.08,405.10 531.33,405.10 531.50,405.10 531.58,405.11 531.83,405.11 532.00,405.11 532.08,405.11 532.33,405.12 532.50,405.12 532.58,405.12 532.83,405.13 533.00,405.13" fill="none" stroke="#000000" stroke-width="1.5" stroke-linejoin="round"/>
<g font-size="17"><text x="39.00" y="433" text-anchor="middle">20</text><text x="137.80" y="433" text-anchor="middle">40</text><text x="236.60" y="433" text-anchor="middle">60</text><text x="335.40" y="433" text-anchor="middle">80</text><text x="434.20" y="433" text-anchor="middle">100</text><text x="533.00" y="433" text-anchor="middle">120</text></g>
<g font-size="11.5" fill="#1a1a1a"><text x="101.0" y="34.2">Al (FCC A1)</text><text x="135.4" y="91.9">Al (FCC A1)</text><text x="224.8" y="133.0">Al (FCC A1)</text><text x="296.0" y="135.7">Al (FCC A1)</text><text x="469.4" y="153.4">Al (FCC A1)</text><text x="336.1" y="154.3" font-size="11.3">Al<tspan font-size="8.3" dy="3">2</tspan><tspan dy="-3">Cu</tspan></text></g>
<g font-size="14.2"><line x1="282.5" y1="32.7" x2="314.6" y2="32.7" stroke="#000000" stroke-width="1.6"/><text x="319" y="37.6">AA2070 SECONDARY 575°C</text><line x1="282.5" y1="50.2" x2="314.6" y2="50.2" stroke="#ff0000" stroke-width="1.6"/><text x="319" y="55.1">AA2070 SECONDARY 550°C</text><line x1="282.5" y1="67.7" x2="314.6" y2="67.7" stroke="#0000ff" stroke-width="1.6"/><text x="319" y="72.6">AA2070 SECONDARY 525°C</text></g>
<text x="286" y="466.8" font-size="21" text-anchor="middle">2<tspan font-family="Liberation Serif">θ</tspan> (degrees)</text>
<text transform="translate(21.5,206.8) rotate(-90)" font-size="21" text-anchor="middle">Intensity (a.u.)</text>
</svg>
</body></html>
